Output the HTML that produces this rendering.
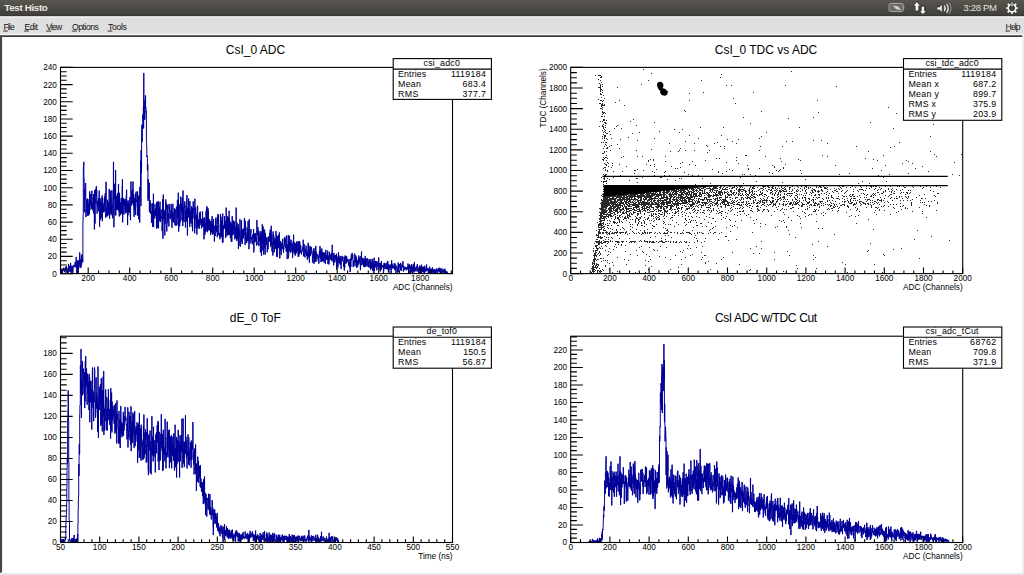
<!DOCTYPE html><html><head><meta charset="utf-8"><style>html,body{margin:0;padding:0;width:1024px;height:575px;overflow:hidden;background:#fff}svg{display:block;font-family:"Liberation Sans", sans-serif}</style></head><body>
<svg width="1024" height="575" viewBox="0 0 1024 575">
<defs><linearGradient id="tb" x1="0" y1="0" x2="0" y2="1"><stop offset="0" stop-color="#58564f"/><stop offset="1" stop-color="#3e3d39"/></linearGradient></defs>
<rect x="0" y="0" width="1024" height="16.4" fill="url(#tb)"/>
<rect x="0" y="15.6" width="1024" height="0.9" fill="#2e2d2a"/>
<text x="4.3" y="11" font-size="9.8" font-weight="bold" fill="#ebe8e1" textLength="43.5">Test Histo</text>
<text x="963.3" y="10.9" font-size="9.6" fill="#e6e3dc" textLength="33.8">3:28 PM</text>
<rect x="889" y="3.4" width="14.3" height="8.2" rx="1.8" fill="#6d6b66" stroke="#a9a7a2" stroke-width="1"/>
<rect x="903.3" y="6" width="1" height="3" fill="#a9a7a2"/>
<path d="M893.6 5.9L897.6 7.3L897 6.3L900.4 9.7L896.3 8.3L896.9 9.3Z" fill="#dddbd5" stroke="#dddbd5" stroke-width="0.9" stroke-linejoin="round"/>
<path d="M916.7 1.6L920.6 5.9H918.8V10.9H915.1V5.9H913.2Z" fill="#f4f3f0" stroke="#1c1c1a" stroke-width="0.7"/>
<path d="M922.9 14.6L926.6 10.9H924.6V6.2H921.2V10.9H919.3Z" fill="#f4f3f0" stroke="#1c1c1a" stroke-width="0.7"/>
<path d="M936.8 7V9.9H939.6L942.2 12.9V3.8L939.6 7Z" fill="#f2f1ee" stroke="#1c1c1a" stroke-width="0.6"/>
<path d="M944.2 5.6Q946.3 8.4 944.2 11.2M946.6 4Q949.8 8.4 946.6 12.8" fill="none" stroke="#ecebe8" stroke-width="1.2"/>
<path d="M949 2.6Q953.3 8.4 949 14.2" fill="none" stroke="#8a8884" stroke-width="1.2"/>
<g transform="translate(1012 8.1)"><rect x="-1.15" y="-6.4" width="2.3" height="3" rx="0.3" transform="rotate(0)" fill="#f6f5f2" stroke="#111" stroke-width="0.5"/><rect x="-1.15" y="-6.4" width="2.3" height="3" rx="0.3" transform="rotate(45)" fill="#f6f5f2" stroke="#111" stroke-width="0.5"/><rect x="-1.15" y="-6.4" width="2.3" height="3" rx="0.3" transform="rotate(90)" fill="#f6f5f2" stroke="#111" stroke-width="0.5"/><rect x="-1.15" y="-6.4" width="2.3" height="3" rx="0.3" transform="rotate(135)" fill="#f6f5f2" stroke="#111" stroke-width="0.5"/><rect x="-1.15" y="-6.4" width="2.3" height="3" rx="0.3" transform="rotate(180)" fill="#f6f5f2" stroke="#111" stroke-width="0.5"/><rect x="-1.15" y="-6.4" width="2.3" height="3" rx="0.3" transform="rotate(225)" fill="#f6f5f2" stroke="#111" stroke-width="0.5"/><rect x="-1.15" y="-6.4" width="2.3" height="3" rx="0.3" transform="rotate(270)" fill="#f6f5f2" stroke="#111" stroke-width="0.5"/><rect x="-1.15" y="-6.4" width="2.3" height="3" rx="0.3" transform="rotate(315)" fill="#f6f5f2" stroke="#111" stroke-width="0.5"/><circle r="4.6" fill="#f6f5f2"/><circle r="2.6" fill="#45443f" stroke="#111" stroke-width="0.6"/><rect x="-1.3" y="-6.2" width="2.6" height="5.2" fill="#1a1a18"/><rect x="-0.7" y="-6" width="1.4" height="4.6" fill="#d8d7d3"/></g>
<rect x="0" y="16.4" width="1024" height="19" fill="#dfdfdf"/>
<rect x="0" y="16.5" width="1024" height="1.2" fill="#f4f4f4"/>
<rect x="0" y="33.8" width="1024" height="1.2" fill="#f6f6f6"/>
<g font-size="8.6" fill="#111"><text x="3.4" y="29.5" textLength="11.3">File</text><rect x="3.2" y="30.6" width="4.6" height="0.9" fill="#222"/><text x="24.4" y="29.5" textLength="13.6">Edit</text><rect x="24.2" y="30.6" width="4.6" height="0.9" fill="#222"/><text x="46.3" y="29.5" textLength="15.9">View</text><rect x="46.1" y="30.6" width="5" height="0.9" fill="#222"/><text x="72" y="29.5" textLength="26.8">Options</text><rect x="71.8" y="30.6" width="5" height="0.9" fill="#222"/><text x="107.9" y="29.5" textLength="18.9">Tools</text><rect x="107.7" y="30.6" width="4.6" height="0.9" fill="#222"/><text x="1005.6" y="29.5" textLength="15">Help</text><rect x="1005.4" y="30.6" width="4.6" height="0.9" fill="#222"/></g>
<rect x="0" y="35" width="1024" height="540" fill="#fff"/>
<rect x="0" y="35.2" width="1022.7" height="1.8" rx="0.8" fill="#3d3d3d"/>
<rect x="0" y="35.2" width="2.1" height="537.6" rx="0.8" fill="#464646"/>
<rect x="0" y="573" width="1024" height="2" fill="#e8e8e8"/>
<rect x="1022.5" y="36" width="1.5" height="539" fill="#e8e8e8"/>
<text x="255.5" y="53.8" text-anchor="middle" font-size="12" fill="#000">CsI_0 ADC</text>
<text x="766" y="53.5" text-anchor="middle" font-size="12" fill="#000">CsI_0 TDC vs ADC</text>
<text x="255.3" y="322.4" text-anchor="middle" font-size="12" fill="#000">dE_0 ToF</text>
<text x="766" y="322.2" text-anchor="middle" font-size="12" fill="#000" textLength="102.2">CsI ADC w/TDC Cut</text>
<path d="M60.5 271.5H60.7V270.0H60.9V272.6H61.1V271.3H61.3V268.9H61.5V270.3H61.7V273.6H62.0V269.0H62.2V273.6H62.4V273.6H62.6V269.9H62.8V270.5H63.0V269.8H63.2V269.6H63.4V269.2H63.6V267.8H63.8V270.9H64.0V270.4H64.2V271.0H64.4V272.0H64.7V271.7H64.9V269.4H65.1V269.8H65.3V267.0H65.5V270.0H65.7V271.5H65.9V272.9H66.1V267.8H66.3V266.3H66.5V268.7H66.7V268.1H66.9V270.8H67.1V271.6H67.3V270.5H67.6V272.6H67.8V268.6H68.0V273.6H68.2V273.6H68.4V264.0H68.6V266.4H68.8V268.1H69.0V268.0H69.2V268.5H69.4V265.9H69.6V271.4H69.8V267.3H70.0V266.8H70.3V269.7H70.5V263.1H70.7V272.4H70.9V267.6H71.1V265.8H71.3V267.7H71.5V267.3H71.7V273.6H71.9V270.2H72.1V270.4H72.3V270.1H72.5V266.1H72.7V272.8H73.0V268.1H73.2V266.1H73.4V265.0H73.6V265.9H73.8V266.6H74.0V266.5H74.2V266.9H74.4V265.9H74.6V264.9H74.8V264.4H75.0V261.9H75.2V261.9H75.4V267.2H75.6V265.7H75.9V266.2H76.1V257.2H76.3V267.1H76.5V265.5H76.7V273.6H76.9V266.4H77.1V264.9H77.3V261.3H77.5V270.1H77.7V265.4H77.9V260.2H78.1V273.1H78.3V261.2H78.6V268.7H78.8V263.8H79.0V262.4H79.2V263.3H79.4V257.2H79.6V252.5H79.8V266.7H80.0V261.8H80.2V259.4H80.4V267.7H80.6V267.5H80.8V265.5H81.0V267.1H81.2V255.5H81.5V264.7H81.7V257.8H81.9V254.4H82.1V256.5H82.3V261.0H82.5V260.5H82.7V262.2H82.9V221.9H83.1V214.8H83.3V167.2H83.5V166.3H83.7V161.9H83.9V178.3H84.2V212.2H84.4V194.4H84.6V189.2H84.8V200.3H85.0V195.4H85.2V185.2H85.4V183.9H85.6V183.1H85.8V217.0H86.0V209.7H86.2V211.4H86.4V199.7H86.6V199.9H86.9V199.8H87.1V215.9H87.3V198.7H87.5V213.5H87.7V203.2H87.9V208.8H88.1V205.1H88.3V214.8H88.5V203.7H88.7V215.5H88.9V199.3H89.1V207.7H89.3V213.9H89.5V191.4H89.8V210.2H90.0V206.1H90.2V194.0H90.4V202.7H90.6V202.2H90.8V205.5H91.0V202.1H91.2V201.5H91.4V208.9H91.6V193.9H91.8V190.8H92.0V196.9H92.2V208.4H92.5V203.0H92.7V210.4H92.9V208.9H93.1V200.5H93.3V194.1H93.5V203.1H93.7V213.5H93.9V213.4H94.1V199.8H94.3V229.4H94.5V190.2H94.7V201.7H94.9V223.5H95.2V196.2H95.4V193.5H95.6V189.0H95.8V203.0H96.0V203.9H96.2V186.2H96.4V196.1H96.6V190.0H96.8V196.5H97.0V213.6H97.2V203.2H97.4V206.1H97.6V200.8H97.8V201.4H98.1V202.1H98.3V208.6H98.5V198.3H98.7V211.3H98.9V205.6H99.1V190.7H99.3V204.1H99.5V226.7H99.7V202.2H99.9V215.3H100.1V201.1H100.3V219.5H100.5V206.1H100.8V198.4H101.0V218.0H101.2V207.3H101.4V203.0H101.6V205.9H101.8V212.6H102.0V195.5H102.2V221.1H102.4V205.1H102.6V197.9H102.8V212.3H103.0V203.1H103.2V212.1H103.5V207.5H103.7V205.8H103.9V205.2H104.1V211.6H104.3V205.3H104.5V197.6H104.7V196.6H104.9V204.2H105.1V193.3H105.3V213.5H105.5V217.6H105.7V217.7H105.9V181.9H106.2V207.2H106.4V207.6H106.6V215.8H106.8V216.2H107.0V216.2H107.2V207.0H107.4V199.8H107.6V216.2H107.8V207.7H108.0V211.6H108.2V208.2H108.4V202.1H108.6V214.4H108.8V214.7H109.1V189.0H109.3V205.1H109.5V218.5H109.7V208.3H109.9V205.4H110.1V201.8H110.3V201.2H110.5V190.9H110.7V213.1H110.9V198.3H111.1V215.1H111.3V214.2H111.5V205.7H111.8V190.2H112.0V202.1H112.2V205.1H112.4V210.2H112.6V218.2H112.8V215.4H113.0V203.1H113.2V197.4H113.4V161.9H113.6V195.1H113.8V227.2H114.0V199.8H114.2V183.8H114.4V198.3H114.7V196.6H114.9V200.6H115.1V215.2H115.3V203.0H115.5V170.2H115.7V215.3H115.9V204.8H116.1V209.7H116.3V195.9H116.5V202.8H116.7V209.2H116.9V199.1H117.1V209.7H117.4V193.0H117.6V205.3H117.8V205.7H118.0V202.4H118.2V210.0H118.4V184.2H118.6V211.2H118.8V205.6H119.0V192.7H119.2V216.4H119.4V194.4H119.6V209.4H119.8V206.3H120.1V215.2H120.3V205.9H120.5V202.4H120.7V213.5H120.9V203.7H121.1V198.1H121.3V206.2H121.5V213.8H121.7V208.4H121.9V199.9H122.1V185.9H122.3V179.4H122.5V222.3H122.8V203.7H123.0V201.4H123.2V204.7H123.4V198.0H123.6V205.2H123.8V214.6H124.0V211.1H124.2V199.3H124.4V200.5H124.6V206.1H124.8V200.9H125.0V210.0H125.2V213.2H125.4V199.2H125.7V203.8H125.9V206.5H126.1V196.8H126.3V193.7H126.5V189.7H126.7V212.7H126.9V205.0H127.1V200.7H127.3V214.2H127.5V225.0H127.7V204.1H127.9V215.2H128.1V203.7H128.4V211.6H128.6V206.7H128.8V200.5H129.0V206.5H129.2V209.3H129.4V213.0H129.6V209.6H129.8V197.2H130.0V204.5H130.2V216.8H130.4V220.1H130.6V204.6H130.8V181.6H131.1V194.3H131.3V203.5H131.5V205.6H131.7V191.3H131.9V196.8H132.1V203.2H132.3V199.7H132.5V189.4H132.7V198.2H132.9V181.6H133.1V204.2H133.3V198.5H133.5V194.7H133.7V208.2H134.0V216.8H134.2V198.2H134.4V210.0H134.6V201.0H134.8V201.9H135.0V203.9H135.2V193.8H135.4V214.9H135.6V207.8H135.8V199.7H136.0V191.6H136.2V202.2H136.4V200.0H136.7V200.0H136.9V200.4H137.1V206.2H137.3V215.5H137.5V191.5H137.7V194.9H137.9V201.7H138.1V201.8H138.3V196.7H138.5V219.2H138.7V195.9H138.9V201.6H139.1V204.2H139.3V205.2H139.6V222.5H139.8V187.2H140.0V201.0H140.2V199.5H140.4V185.2H140.6V160.9H140.8V206.0H141.0V150.2H141.2V173.0H141.4V166.9H141.6V136.6H141.8V124.7H142.0V142.0H142.3V128.8H142.5V125.4H142.7V115.0H142.9V120.2H143.1V113.1H143.3V106.5H143.5V128.4H143.7V73.1H143.9V108.2H144.1V100.6H144.3V109.5H144.5V119.8H144.7V119.3H145.0V113.7H145.2V97.6H145.4V95.5H145.6V108.5H145.8V107.6H146.0V111.3H146.2V110.9H146.4V141.2H146.6V145.9H146.8V156.9H147.0V155.7H147.2V157.2H147.4V170.3H147.6V164.4H147.9V200.8H148.1V179.3H148.3V183.2H148.5V182.3H148.7V198.6H148.9V199.1H149.1V182.9H149.3V211.9H149.5V209.9H149.7V200.1H149.9V200.7H150.1V200.6H150.3V213.5H150.6V207.0H150.8V203.2H151.0V213.4H151.2V211.5H151.4V222.7H151.6V214.8H151.8V214.1H152.0V219.8H152.2V204.2H152.4V213.8H152.6V226.9H152.8V203.3H153.0V207.6H153.3V193.8H153.5V226.8H153.7V205.3H153.9V203.9H154.1V211.8H154.3V210.1H154.5V215.5H154.7V218.4H154.9V213.8H155.1V210.0H155.3V215.7H155.5V208.3H155.7V215.2H155.9V204.3H156.2V215.7H156.4V228.4H156.6V202.3H156.8V206.4H157.0V201.8H157.2V205.4H157.4V227.9H157.6V223.1H157.8V208.8H158.0V214.7H158.2V201.3H158.4V228.3H158.6V220.6H158.9V206.8H159.1V207.6H159.3V218.5H159.5V207.2H159.7V220.6H159.9V201.8H160.1V222.0H160.3V215.5H160.5V221.1H160.7V214.7H160.9V209.9H161.1V209.7H161.3V218.7H161.6V216.5H161.8V218.0H162.0V231.0H162.2V224.8H162.4V216.9H162.6V199.4H162.8V238.7H163.0V208.6H163.2V194.6H163.4V212.4H163.6V219.3H163.8V209.5H164.0V213.5H164.2V211.2H164.5V220.6H164.7V235.4H164.9V216.7H165.1V223.8H165.3V216.7H165.5V205.9H165.7V199.5H165.9V209.0H166.1V203.3H166.3V221.4H166.5V222.1H166.7V231.4H166.9V224.5H167.2V221.8H167.4V222.1H167.6V204.8H167.8V216.5H168.0V220.8H168.2V213.9H168.4V213.0H168.6V221.6H168.8V226.4H169.0V204.0H169.2V208.6H169.4V206.1H169.6V211.9H169.9V218.2H170.1V214.8H170.3V215.3H170.5V219.1H170.7V210.5H170.9V211.8H171.1V203.8H171.3V209.2H171.5V217.4H171.7V225.9H171.9V227.8H172.1V214.6H172.3V213.1H172.6V221.5H172.8V204.1H173.0V214.6H173.2V220.3H173.4V222.3H173.6V215.3H173.8V213.1H174.0V214.6H174.2V209.5H174.4V208.5H174.6V222.8H174.8V225.1H175.0V213.4H175.2V209.8H175.5V212.5H175.7V213.1H175.9V226.0H176.1V208.8H176.3V206.7H176.5V207.7H176.7V211.5H176.9V224.9H177.1V212.3H177.3V199.9H177.5V217.8H177.7V211.8H177.9V203.9H178.2V192.7H178.4V211.2H178.6V231.5H178.8V204.3H179.0V215.4H179.2V219.1H179.4V219.7H179.6V226.3H179.8V206.2H180.0V222.5H180.2V203.6H180.4V206.0H180.6V196.7H180.8V207.4H181.1V206.9H181.3V211.2H181.5V204.2H181.7V212.9H181.9V220.4H182.1V197.6H182.3V203.9H182.5V200.8H182.7V226.0H182.9V190.6H183.1V220.1H183.3V207.4H183.5V207.8H183.8V220.5H184.0V222.0H184.2V206.4H184.4V207.4H184.6V202.8H184.8V201.5H185.0V211.9H185.2V218.5H185.4V227.5H185.6V210.8H185.8V218.6H186.0V205.7H186.2V213.8H186.5V221.3H186.7V197.2H186.9V195.1H187.1V207.7H187.3V235.4H187.5V209.7H187.7V216.8H187.9V208.2H188.1V217.5H188.3V208.7H188.5V198.6H188.7V214.3H188.9V214.7H189.2V209.3H189.4V224.1H189.6V226.8H189.8V201.2H190.0V206.7H190.2V211.7H190.4V221.2H190.6V212.9H190.8V223.3H191.0V210.5H191.2V218.0H191.4V219.6H191.6V206.3H191.8V224.1H192.1V227.3H192.3V208.1H192.5V231.2H192.7V209.7H192.9V218.3H193.1V201.5H193.3V210.6H193.5V209.0H193.7V210.4H193.9V208.1H194.1V215.2H194.3V218.7H194.5V233.2H194.8V198.8H195.0V220.3H195.2V213.0H195.4V213.1H195.6V207.4H195.8V212.3H196.0V228.3H196.2V220.4H196.4V214.8H196.6V217.1H196.8V234.5H197.0V216.3H197.2V225.2H197.4V205.9H197.7V226.5H197.9V221.8H198.1V227.7H198.3V219.6H198.5V219.8H198.7V219.8H198.9V228.7H199.1V228.5H199.3V214.3H199.5V212.8H199.7V219.9H199.9V225.2H200.1V211.7H200.4V222.8H200.6V219.5H200.8V222.1H201.0V218.8H201.2V220.5H201.4V228.3H201.6V227.1H201.8V220.0H202.0V222.2H202.2V226.6H202.4V211.5H202.6V220.0H202.8V220.5H203.1V218.7H203.3V222.0H203.5V226.9H203.7V220.9H203.9V239.2H204.1V217.5H204.3V227.9H204.5V217.8H204.7V235.0H204.9V225.9H205.1V222.8H205.3V230.3H205.5V232.3H205.8V223.7H206.0V211.3H206.2V230.8H206.4V208.9H206.6V221.6H206.8V206.3H207.0V222.8H207.2V215.8H207.4V232.1H207.6V217.0H207.8V207.9H208.0V229.0H208.2V210.7H208.4V230.2H208.7V223.8H208.9V223.6H209.1V222.7H209.3V219.2H209.5V221.8H209.7V230.3H209.9V221.9H210.1V227.9H210.3V221.1H210.5V235.0H210.7V220.9H210.9V228.2H211.1V224.3H211.4V232.4H211.6V224.6H211.8V218.5H212.0V216.1H212.2V221.3H212.4V234.2H212.6V224.5H212.8V234.5H213.0V222.7H213.2V230.5H213.4V219.1H213.6V232.1H213.8V233.4H214.0V232.4H214.3V241.5H214.5V234.1H214.7V225.8H214.9V227.4H215.1V236.0H215.3V231.3H215.5V218.9H215.7V223.5H215.9V217.6H216.1V222.7H216.3V231.4H216.5V231.9H216.7V226.0H217.0V233.6H217.2V237.2H217.4V229.1H217.6V216.4H217.8V214.2H218.0V223.1H218.2V215.2H218.4V224.3H218.6V235.1H218.8V233.5H219.0V234.6H219.2V233.4H219.4V236.1H219.7V233.2H219.9V239.2H220.1V223.4H220.3V214.1H220.5V223.9H220.7V236.6H220.9V216.7H221.1V227.4H221.3V220.7H221.5V237.1H221.7V222.7H221.9V229.3H222.1V228.3H222.3V242.5H222.6V213.6H222.8V242.5H223.0V237.3H223.2V230.7H223.4V225.9H223.6V226.4H223.8V226.8H224.0V224.8H224.2V228.7H224.4V216.2H224.6V226.8H224.8V227.3H225.0V226.0H225.3V220.8H225.5V237.9H225.7V230.5H225.9V236.5H226.1V207.7H226.3V231.2H226.5V227.4H226.7V231.5H226.9V221.3H227.1V216.1H227.3V235.4H227.5V221.8H227.7V220.9H228.0V218.6H228.2V234.4H228.4V234.8H228.6V217.0H228.8V233.7H229.0V210.8H229.2V222.0H229.4V234.5H229.6V220.8H229.8V234.7H230.0V233.4H230.2V237.7H230.4V222.0H230.7V226.0H230.9V235.5H231.1V241.5H231.3V237.0H231.5V223.4H231.7V241.8H231.9V232.4H232.1V216.2H232.3V224.6H232.5V233.9H232.7V229.0H232.9V235.2H233.1V229.6H233.3V220.7H233.6V229.2H233.8V225.4H234.0V233.8H234.2V230.1H234.4V229.9H234.6V221.5H234.8V239.2H235.0V232.3H235.2V229.6H235.4V227.0H235.6V238.1H235.8V234.3H236.0V207.7H236.3V224.7H236.5V240.1H236.7V241.0H236.9V222.8H237.1V224.5H237.3V226.3H237.5V238.0H237.7V230.5H237.9V239.4H238.1V224.3H238.3V248.8H238.5V230.8H238.7V227.9H238.9V245.8H239.2V237.4H239.4V230.2H239.6V233.8H239.8V219.3H240.0V220.2H240.2V243.9H240.4V246.5H240.6V236.7H240.8V231.5H241.0V232.5H241.2V231.0H241.4V220.4H241.6V241.9H241.9V230.6H242.1V244.0H242.3V229.5H242.5V231.9H242.7V236.0H242.9V238.7H243.1V228.6H243.3V229.7H243.5V237.8H243.7V233.1H243.9V234.2H244.1V234.8H244.3V218.2H244.6V230.3H244.8V224.1H245.0V244.9H245.2V220.9H245.4V224.9H245.6V240.3H245.8V232.4H246.0V237.0H246.2V237.2H246.4V236.4H246.6V243.1H246.8V235.3H247.0V227.5H247.2V231.3H247.5V240.0H247.7V241.0H247.9V221.2H248.1V221.1H248.3V229.8H248.5V240.6H248.7V234.3H248.9V249.1H249.1V219.3H249.3V230.6H249.5V232.1H249.7V236.2H249.9V243.4H250.2V238.4H250.4V232.4H250.6V232.8H250.8V229.0H251.0V239.1H251.2V237.4H251.4V237.0H251.6V240.3H251.8V242.2H252.0V241.1H252.2V244.2H252.4V243.1H252.6V235.5H252.9V233.9H253.1V236.8H253.3V238.7H253.5V229.1H253.7V252.4H253.9V250.2H254.1V234.6H254.3V233.5H254.5V242.4H254.7V237.4H254.9V237.3H255.1V240.4H255.3V237.4H255.5V233.2H255.8V241.6H256.0V237.2H256.2V239.6H256.4V245.4H256.6V237.1H256.8V220.1H257.0V235.2H257.2V233.5H257.4V234.6H257.6V229.2H257.8V227.2H258.0V245.0H258.2V241.6H258.5V230.7H258.7V245.7H258.9V245.9H259.1V237.8H259.3V241.1H259.5V236.2H259.7V233.1H259.9V231.5H260.1V231.3H260.3V252.3H260.5V234.2H260.7V245.4H260.9V237.6H261.2V244.6H261.4V255.8H261.6V231.5H261.8V233.8H262.0V250.6H262.2V224.3H262.4V243.1H262.6V243.3H262.8V243.8H263.0V226.5H263.2V236.1H263.4V236.8H263.6V254.5H263.9V229.4H264.1V248.5H264.3V240.6H264.5V230.0H264.7V231.7H264.9V243.9H265.1V254.4H265.3V233.5H265.5V241.9H265.7V242.6H265.9V245.2H266.1V240.6H266.3V238.2H266.5V237.6H266.8V244.7H267.0V237.5H267.2V252.2H267.4V244.0H267.6V243.1H267.8V244.1H268.0V249.1H268.2V243.4H268.4V240.6H268.6V236.4H268.8V241.8H269.0V241.5H269.2V240.5H269.5V233.0H269.7V235.9H269.9V241.6H270.1V229.6H270.3V236.1H270.5V246.6H270.7V237.1H270.9V239.1H271.1V225.9H271.3V244.7H271.5V236.7H271.7V234.9H271.9V251.2H272.1V242.3H272.4V252.5H272.6V245.6H272.8V255.5H273.0V231.5H273.2V241.9H273.4V234.4H273.6V244.2H273.8V236.4H274.0V248.5H274.2V252.1H274.4V240.0H274.6V248.3H274.8V244.7H275.1V238.5H275.3V248.7H275.5V244.0H275.7V239.7H275.9V231.2H276.1V235.8H276.3V234.9H276.5V256.3H276.7V242.5H276.9V243.8H277.1V257.1H277.3V243.2H277.5V236.1H277.8V243.6H278.0V248.0H278.2V240.0H278.4V235.0H278.6V246.7H278.8V248.1H279.0V239.5H279.2V232.5H279.4V254.7H279.6V258.3H279.8V258.3H280.0V242.7H280.2V247.6H280.4V241.0H280.7V250.8H280.9V248.5H281.1V254.8H281.3V247.6H281.5V242.9H281.7V248.5H281.9V244.8H282.1V249.2H282.3V248.2H282.5V239.0H282.7V243.3H282.9V245.2H283.1V245.6H283.4V252.7H283.6V249.7H283.8V249.7H284.0V246.8H284.2V237.7H284.4V245.6H284.6V240.0H284.8V237.3H285.0V242.2H285.2V239.4H285.4V244.7H285.6V247.8H285.8V247.0H286.1V251.3H286.3V235.7H286.5V238.6H286.7V251.6H286.9V244.4H287.1V259.0H287.3V253.6H287.5V246.3H287.7V244.7H287.9V251.4H288.1V235.1H288.3V258.3H288.5V255.4H288.8V246.4H289.0V241.0H289.2V251.1H289.4V235.9H289.6V246.8H289.8V243.5H290.0V242.4H290.2V248.0H290.4V252.7H290.6V248.4H290.8V239.7H291.0V239.9H291.2V245.7H291.4V243.2H291.7V250.2H291.9V252.1H292.1V243.9H292.3V245.3H292.5V257.9H292.7V244.1H292.9V253.3H293.1V240.8H293.3V244.4H293.5V234.8H293.7V251.0H293.9V247.3H294.1V242.2H294.4V252.7H294.6V251.4H294.8V250.9H295.0V255.5H295.2V249.1H295.4V254.7H295.6V243.3H295.8V250.6H296.0V247.3H296.2V252.4H296.4V241.6H296.6V253.2H296.8V244.1H297.0V250.6H297.3V245.6H297.5V250.4H297.7V243.9H297.9V241.4H298.1V256.8H298.3V241.5H298.5V248.1H298.7V256.5H298.9V245.6H299.1V247.0H299.3V254.1H299.5V241.0H299.7V242.2H300.0V248.6H300.2V249.8H300.4V252.0H300.6V245.4H300.8V252.6H301.0V253.0H301.2V251.4H301.4V254.6H301.6V250.8H301.8V250.6H302.0V251.2H302.2V249.4H302.4V247.2H302.7V249.9H302.9V248.2H303.1V239.8H303.3V253.0H303.5V256.2H303.7V251.8H303.9V249.2H304.1V244.2H304.3V255.0H304.5V255.6H304.7V255.8H304.9V257.4H305.1V249.1H305.4V251.8H305.6V253.5H305.8V252.5H306.0V245.7H306.2V255.9H306.4V253.3H306.6V255.3H306.8V250.6H307.0V254.5H307.2V259.9H307.4V258.1H307.6V253.2H307.8V256.0H308.0V242.8H308.3V257.5H308.5V244.9H308.7V249.4H308.9V246.6H309.1V252.2H309.3V262.6H309.5V255.5H309.7V250.7H309.9V250.9H310.1V246.2H310.3V256.1H310.5V248.6H310.7V253.0H311.0V253.5H311.2V247.1H311.4V250.0H311.6V249.6H311.8V250.4H312.0V254.7H312.2V254.4H312.4V262.2H312.6V262.5H312.8V254.3H313.0V251.8H313.2V252.4H313.4V258.0H313.6V248.4H313.9V263.8H314.1V251.0H314.3V261.8H314.5V253.0H314.7V258.8H314.9V261.2H315.1V248.5H315.3V261.3H315.5V258.0H315.7V245.9H315.9V261.8H316.1V253.3H316.3V252.2H316.6V256.7H316.8V258.2H317.0V254.5H317.2V255.0H317.4V255.8H317.6V256.1H317.8V254.7H318.0V260.6H318.2V260.7H318.4V256.4H318.6V260.3H318.8V263.5H319.0V257.4H319.3V251.2H319.5V255.4H319.7V254.3H319.9V246.1H320.1V258.0H320.3V249.9H320.5V257.8H320.7V259.1H320.9V262.0H321.1V251.3H321.3V257.9H321.5V261.7H321.7V248.5H321.9V258.7H322.2V261.0H322.4V260.8H322.6V252.2H322.8V260.9H323.0V258.5H323.2V252.3H323.4V260.4H323.6V256.8H323.8V254.8H324.0V262.6H324.2V256.5H324.4V252.8H324.6V253.4H324.9V258.5H325.1V256.0H325.3V263.8H325.5V259.3H325.7V249.9H325.9V257.6H326.1V259.3H326.3V255.5H326.5V256.9H326.7V259.7H326.9V256.7H327.1V253.0H327.3V259.5H327.6V250.7H327.8V264.0H328.0V263.7H328.2V255.7H328.4V259.5H328.6V257.0H328.8V264.3H329.0V262.7H329.2V252.5H329.4V251.9H329.6V256.1H329.8V257.1H330.0V259.9H330.2V257.9H330.5V255.0H330.7V254.5H330.9V259.0H331.1V255.8H331.3V252.9H331.5V259.9H331.7V256.4H331.9V261.1H332.1V244.9H332.3V255.2H332.5V254.1H332.7V255.6H332.9V257.7H333.2V262.2H333.4V255.3H333.6V265.3H333.8V253.0H334.0V259.9H334.2V255.9H334.4V256.0H334.6V257.9H334.8V262.4H335.0V255.1H335.2V259.1H335.4V258.0H335.6V256.4H335.9V258.1H336.1V259.6H336.3V253.9H336.5V269.4H336.7V260.8H336.9V265.7H337.1V261.7H337.3V263.1H337.5V263.5H337.7V256.7H337.9V267.4H338.1V261.5H338.3V252.4H338.6V261.8H338.8V262.2H339.0V255.7H339.2V257.9H339.4V263.3H339.6V258.9H339.8V261.3H340.0V257.6H340.2V264.6H340.4V257.7H340.6V256.3H340.8V258.1H341.0V268.9H341.2V262.7H341.5V261.1H341.7V260.6H341.9V255.9H342.1V260.1H342.3V258.8H342.5V261.0H342.7V258.9H342.9V256.8H343.1V260.7H343.3V262.7H343.5V266.5H343.7V265.0H343.9V261.1H344.2V270.5H344.4V257.1H344.6V267.9H344.8V258.3H345.0V255.5H345.2V257.8H345.4V261.6H345.6V262.8H345.8V263.7H346.0V256.5H346.2V258.9H346.4V262.8H346.6V256.4H346.8V261.2H347.1V260.4H347.3V259.2H347.5V260.7H347.7V261.5H347.9V259.1H348.1V260.5H348.3V262.5H348.5V265.9H348.7V262.1H348.9V263.7H349.1V263.0H349.3V262.5H349.5V267.5H349.8V259.4H350.0V271.8H350.2V270.3H350.4V258.6H350.6V264.9H350.8V266.7H351.0V260.3H351.2V254.7H351.4V260.3H351.6V260.2H351.8V257.4H352.0V252.9H352.2V258.5H352.5V255.7H352.7V254.8H352.9V260.2H353.1V267.0H353.3V261.5H353.5V264.9H353.7V260.7H353.9V261.8H354.1V263.0H354.3V260.8H354.5V262.7H354.7V253.7H354.9V266.2H355.1V261.8H355.4V258.9H355.6V260.0H355.8V255.7H356.0V259.3H356.2V262.1H356.4V257.0H356.6V267.8H356.8V260.7H357.0V264.8H357.2V260.4H357.4V263.6H357.6V266.9H357.8V260.8H358.1V259.6H358.3V264.6H358.5V259.2H358.7V255.6H358.9V260.6H359.1V262.0H359.3V258.9H359.5V257.6H359.7V263.2H359.9V264.0H360.1V264.2H360.3V270.1H360.5V262.0H360.8V256.2H361.0V265.4H361.2V262.8H361.4V251.6H361.6V261.4H361.8V259.8H362.0V260.0H362.2V260.5H362.4V257.9H362.6V264.7H362.8V263.0H363.0V260.1H363.2V264.7H363.4V258.7H363.7V267.0H363.9V263.3H364.1V261.8H364.3V267.0H364.5V258.8H364.7V265.8H364.9V267.0H365.1V256.1H365.3V264.2H365.5V264.9H365.7V260.1H365.9V266.2H366.1V261.1H366.4V258.7H366.6V263.4H366.8V266.2H367.0V265.8H367.2V258.6H367.4V259.2H367.6V258.6H367.8V262.1H368.0V266.7H368.2V262.2H368.4V261.3H368.6V267.2H368.8V263.4H369.1V259.1H369.3V264.8H369.5V267.4H369.7V265.4H369.9V266.8H370.1V263.3H370.3V259.5H370.5V269.6H370.7V263.3H370.9V263.9H371.1V262.4H371.3V268.4H371.5V265.0H371.8V261.4H372.0V258.9H372.2V261.1H372.4V270.8H372.6V269.2H372.8V260.2H373.0V263.1H373.2V262.5H373.4V263.3H373.6V268.5H373.8V273.6H374.0V257.8H374.2V270.6H374.4V264.0H374.7V266.2H374.9V267.7H375.1V266.9H375.3V261.0H375.5V266.0H375.7V265.5H375.9V265.5H376.1V262.2H376.3V261.2H376.5V262.6H376.7V270.2H376.9V262.5H377.1V261.9H377.4V264.3H377.6V266.2H377.8V262.2H378.0V267.2H378.2V262.9H378.4V262.4H378.6V257.5H378.8V266.9H379.0V267.9H379.2V268.3H379.4V262.9H379.6V265.5H379.8V266.3H380.1V271.4H380.3V264.2H380.5V263.0H380.7V267.8H380.9V263.5H381.1V269.8H381.3V261.1H381.5V264.5H381.7V265.5H381.9V267.3H382.1V265.2H382.3V267.1H382.5V266.8H382.7V266.2H383.0V266.9H383.2V265.8H383.4V273.6H383.6V271.4H383.8V264.2H384.0V262.9H384.2V266.3H384.4V263.6H384.6V263.5H384.8V269.0H385.0V263.6H385.2V265.2H385.4V264.6H385.7V267.9H385.9V269.0H386.1V266.8H386.3V268.7H386.5V267.6H386.7V262.8H386.9V268.1H387.1V269.3H387.3V266.9H387.5V267.1H387.7V261.0H387.9V265.0H388.1V270.1H388.3V272.1H388.6V264.3H388.8V267.0H389.0V267.1H389.2V268.0H389.4V267.5H389.6V265.4H389.8V269.8H390.0V267.1H390.2V264.6H390.4V264.8H390.6V267.6H390.8V265.0H391.0V273.6H391.3V266.9H391.5V260.3H391.7V262.4H391.9V265.1H392.1V267.3H392.3V264.7H392.5V268.3H392.7V267.4H392.9V265.9H393.1V268.2H393.3V267.4H393.5V266.4H393.7V266.2H394.0V263.3H394.2V267.3H394.4V269.9H394.6V266.2H394.8V268.2H395.0V263.7H395.2V268.3H395.4V267.0H395.6V270.4H395.8V272.7H396.0V266.5H396.2V265.8H396.4V266.3H396.6V266.0H396.9V268.8H397.1V273.2H397.3V271.5H397.5V267.7H397.7V268.0H397.9V267.2H398.1V262.6H398.3V267.6H398.5V266.3H398.7V272.0H398.9V268.9H399.1V264.1H399.3V266.7H399.6V264.9H399.8V264.7H400.0V268.3H400.2V268.9H400.4V270.1H400.6V262.9H400.8V266.8H401.0V266.5H401.2V270.9H401.4V267.5H401.6V265.8H401.8V264.7H402.0V266.7H402.3V265.0H402.5V267.3H402.7V262.2H402.9V261.3H403.1V267.1H403.3V271.5H403.5V269.5H403.7V266.6H403.9V266.1H404.1V270.0H404.3V268.1H404.5V269.6H404.7V268.8H404.9V268.1H405.2V268.8H405.4V267.2H405.6V268.0H405.8V267.0H406.0V270.2H406.2V267.7H406.4V268.2H406.6V269.0H406.8V267.4H407.0V268.7H407.2V269.5H407.4V267.5H407.6V266.4H407.9V263.6H408.1V268.3H408.3V267.2H408.5V273.6H408.7V267.1H408.9V264.8H409.1V264.9H409.3V266.1H409.5V264.6H409.7V269.2H409.9V265.5H410.1V273.6H410.3V266.1H410.6V272.4H410.8V266.4H411.0V272.4H411.2V265.5H411.4V269.2H411.6V264.2H411.8V269.4H412.0V268.4H412.2V266.9H412.4V273.6H412.6V268.4H412.8V272.0H413.0V265.9H413.2V264.4H413.5V270.3H413.7V271.4H413.9V272.5H414.1V264.7H414.3V262.1H414.5V267.8H414.7V271.1H414.9V269.7H415.1V267.4H415.3V270.3H415.5V270.2H415.7V269.7H415.9V271.4H416.2V266.3H416.4V266.5H416.6V268.2H416.8V267.3H417.0V268.2H417.2V264.1H417.4V271.3H417.6V267.4H417.8V267.6H418.0V269.2H418.2V269.2H418.4V269.2H418.6V273.3H418.9V268.0H419.1V266.8H419.3V267.5H419.5V273.1H419.7V265.5H419.9V266.4H420.1V267.8H420.3V271.5H420.5V266.8H420.7V272.8H420.9V269.9H421.1V273.5H421.3V264.7H421.6V270.6H421.8V272.1H422.0V266.6H422.2V271.8H422.4V270.1H422.6V268.4H422.8V267.7H423.0V267.2H423.2V272.5H423.4V267.3H423.6V269.5H423.8V271.5H424.0V266.5H424.2V270.1H424.5V273.6H424.7V265.9H424.9V270.0H425.1V268.5H425.3V269.2H425.5V271.7H425.7V268.9H425.9V270.7H426.1V270.1H426.3V269.2H426.5V264.5H426.7V271.0H426.9V268.6H427.2V270.4H427.4V268.7H427.6V269.0H427.8V268.4H428.0V270.4H428.2V273.6H428.4V268.8H428.6V270.6H428.8V269.0H429.0V273.0H429.2V271.2H429.4V273.2H429.6V266.7H429.8V271.3H430.1V271.4H430.3V269.0H430.5V272.6H430.7V270.4H430.9V268.8H431.1V270.2H431.3V273.4H431.5V269.0H431.7V269.3H431.9V272.4H432.1V272.7H432.3V267.4H432.5V271.6H432.8V269.8H433.0V272.2H433.2V272.8H433.4V271.0H433.6V269.3H433.8V269.2H434.0V273.6H434.2V270.6H434.4V272.7H434.6V269.2H434.8V269.8H435.0V273.6H435.2V270.6H435.5V272.9H435.7V270.9H435.9V273.6H436.1V268.8H436.3V268.6H436.5V270.9H436.7V270.1H436.9V271.0H437.1V269.6H437.3V273.1H437.5V273.6H437.7V271.1H437.9V271.6H438.1V268.4H438.4V270.9H438.6V269.2H438.8V270.3H439.0V267.8H439.2V270.2H439.4V272.2H439.6V272.3H439.8V270.5H440.0V268.1H440.2V270.4H440.4V273.2H440.6V269.2H440.8V270.8H441.1V273.1H441.3V273.3H441.5V273.5H441.7V271.5H441.9V268.4H442.1V271.5H442.3V270.8H442.5V271.5H442.7V273.6H442.9V270.9H443.1V272.2H443.3V270.8H443.5V270.8H443.8V269.4H444.0V271.0H444.2V269.6H444.4V273.6H444.6V272.7H444.8V268.8H445.0V273.0H445.2V270.7H445.4V271.6H445.6V272.8H445.8V272.9H446.0V273.6H446.2V273.6H446.4V271.6H446.7V271.2H446.9V272.8H447.1V272.2H447.3V272.8H447.5V273.6H447.7V273.6H447.9V273.6H448.1V273.6H448.3V273.6H448.5V273.6H448.7V273.6H448.9V273.6H449.1V273.6H449.4V273.6H449.6V273.6H449.8V273.6H450.0V273.6H450.2V273.6H450.4V273.6H450.6V273.6H450.8V273.6H451.0V273.6H451.2V273.6H451.4V273.6H451.6V273.6H451.8V273.6H452.1V273.6H452.3V273.6H452.5V273.6H452.7" fill="none" stroke="#000099" stroke-width="1"/>
<path d="M643 69h1M922 69h1M791 71h1M946 71h1M651 73h1M721 74h1M595 75h1M598 75h3M601 76h1M600 77h2M720 77h1M598 79h1M600 80h1M648 80h1M701 80h1M601 82h1M599 83h1M600 84h1M602 84h1M641 84h1M600 85h1M726 85h1M731 85h1M785 85h1M600 86h1M602 86h1M836 86h1M598 87h3M617 87h1M600 88h1M600 89h2M600 90h1M602 90h1M600 91h1M667 91h1M602 92h1M703 92h1M753 92h1M600 93h1M689 93h1M600 94h2M603 95h1M601 97h1M604 98h1M733 98h1M598 99h1M600 100h2M603 100h1M619 100h1M689 100h1M817 100h1M602 101h1M615 102h1M599 103h2M602 103h1M735 103h1M601 104h2M604 104h1M601 105h4M624 105h1M601 106h1M602 107h1M888 107h1M600 108h2M602 109h1M684 110h1M602 111h1M685 111h1M761 111h1M602 112h3M818 112h1M603 113h1M605 113h1M896 113h1M602 114h1M601 116h2M604 116h1M743 117h1M813 117h1M788 118h1M603 119h2M633 119h1M603 120h2M606 120h1M906 120h1M600 121h1M602 121h1M630 121h1M604 122h2M654 122h1M870 122h1M605 123h2M750 123h1M603 124h1M933 124h1M602 125h1M605 125h1M617 125h1M636 125h1M599 126h1M602 126h2M616 126h1M603 127h1M605 127h1M700 127h1M723 127h1M799 127h1M603 128h1M614 128h1M621 128h1M893 128h1M604 129h1M674 129h1M682 129h1M602 130h1M605 130h1M604 131h1M609 131h1M659 131h1M603 132h1M605 132h1M639 132h1M679 132h1M766 132h1M606 133h2M632 133h1M603 134h1M610 134h1M604 135h2M689 135h1M721 135h1M602 136h1M604 136h2M761 136h1M930 136h1M604 137h1M628 137h1M602 138h1M604 138h1M606 138h1M611 138h1M654 138h1M698 138h1M759 138h1M607 139h1M620 139h1M727 139h1M738 139h1M604 140h1M637 140h1M813 140h1M821 140h1M685 141h1M732 141h1M786 141h1M792 141h1M601 142h1M603 142h1M605 142h2M717 142h1M899 142h1M669 143h1M694 143h1M714 143h1M736 143h1M827 143h1M605 144h1M617 144h1M606 145h1M611 145h1M706 145h1M604 146h1M609 146h1M707 146h1M720 146h1M724 146h1M760 146h1M782 146h1M856 146h1M894 146h1M607 147h1M890 147h1M603 148h1M606 148h2M619 148h1M680 148h1M724 148h1M651 149h1M610 150h1M636 150h1M679 150h1M685 150h1M694 150h1M709 150h1M759 150h1M604 151h1M606 151h1M670 151h1M678 151h1M868 151h1M930 151h1M604 152h1M707 152h1M602 153h2M934 154h1M961 154h1M606 155h1M745 155h2M822 155h1M883 155h1M623 156h1M637 156h1M642 156h1M665 156h1M765 156h1M827 156h1M936 156h1M603 157h1M605 157h2M621 157h1M736 157h1M604 158h1M607 158h1M716 158h1M719 158h1M780 158h1M865 158h1M602 159h2M650 159h1M653 159h1M798 159h1M873 159h1M603 160h1M606 160h1M648 160h1M653 160h1M705 160h1M736 160h1M800 160h1M877 160h1M906 160h1M648 161h1M665 161h1M692 161h1M781 161h1M908 161h1M607 162h1M682 162h1M726 162h1M954 162h1M604 163h1M608 163h1M612 163h1M680 163h1M738 163h1M902 163h1M912 163h1M605 164h2M619 164h1M646 164h1M654 164h1M689 164h1M785 164h1M606 165h1M612 165h1M650 165h1M695 165h1M747 165h1M772 165h1M835 165h1M885 165h1M608 166h1M626 166h1M654 166h1M671 166h1M774 166h1M922 166h1M604 167h2M611 167h1M680 167h1M774 167h1M783 167h1M603 168h1M675 168h1M677 168h1M748 168h1M759 168h1M783 168h1M872 168h1M915 168h1M605 169h1M637 169h1M656 169h1M712 169h1M729 169h1M748 169h1M780 169h1M605 170h1M607 170h1M634 170h2M643 170h1M732 170h1M776 170h1M779 170h1M800 170h1M881 170h1M607 171h1M613 171h1M622 171h1M652 171h1M665 171h1M718 171h1M726 171h1M778 171h1M928 171h1M654 172h1M664 172h1M684 172h1M718 172h1M769 172h1M634 173h1M722 173h1M772 173h1M801 173h1M849 173h1M908 173h1M603 174h1M605 174h2M688 174h1M742 174h1M744 174h1M750 174h1M839 174h1M889 174h1M952 174h1M604 175h2M620 175h1M654 175h1M664 175h1M669 175h1M692 175h1M698 175h1M755 175h1M878 175h1M959 175h1M603 176h1M605 176h1M601 177h1M604 177h1M613 177h1M642 177h1M660 177h2M740 177h1M883 177h1M603 178h2M607 178h1M636 178h2M679 178h1M681 178h1M702 178h1M604 179h1M609 179h1M667 179h1M805 179h1M606 180h1M629 180h1M675 180h1M601 181h1M603 181h4M756 181h1M862 181h1M886 181h1M603 182h1M637 182h1M782 182h1M606 183h1M710 183h1M743 183h1M858 183h1M869 183h1M603 184h1M695 184h1M604 185h18M623 185h4M628 185h5M634 185h8M643 185h1M645 185h2M648 185h7M656 185h1M659 185h3M664 185h9M674 185h1M676 185h9M686 185h1M688 185h2M691 185h1M693 185h3M697 185h1M701 185h4M706 185h1M710 185h4M715 185h2M720 185h4M725 185h2M728 185h1M731 185h1M734 185h3M739 185h3M748 185h2M754 185h1M760 185h1M766 185h2M770 185h1M772 185h1M774 185h3M791 185h1M794 185h1M800 185h1M804 185h2M812 185h1M814 185h2M818 185h1M820 185h1M822 185h2M828 185h1M830 185h1M836 185h1M845 185h1M849 185h1M858 185h1M860 185h2M866 185h1M871 185h1M880 185h1M882 185h1M889 185h2M899 185h1M905 185h1M907 185h1M918 185h1M603 186h22M626 186h5M633 186h5M639 186h4M644 186h9M654 186h5M660 186h11M672 186h1M674 186h4M679 186h1M681 186h5M687 186h6M696 186h4M701 186h2M704 186h1M706 186h1M708 186h1M710 186h2M713 186h5M720 186h2M724 186h1M729 186h2M734 186h1M736 186h1M739 186h3M750 186h1M753 186h2M762 186h4M767 186h2M772 186h2M778 186h1M781 186h1M785 186h1M787 186h1M792 186h1M797 186h1M801 186h1M805 186h2M816 186h1M819 186h2M823 186h1M839 186h1M842 186h2M852 186h1M860 186h1M866 186h1M870 186h2M873 186h1M875 186h2M885 186h1M890 186h1M897 186h1M899 186h1M903 186h1M912 186h1M920 186h1M926 186h1M936 186h1M604 187h16M621 187h20M642 187h3M646 187h3M650 187h1M652 187h6M659 187h2M662 187h2M665 187h1M667 187h3M672 187h1M674 187h1M677 187h2M680 187h4M685 187h2M689 187h1M691 187h4M696 187h2M703 187h3M709 187h1M713 187h4M719 187h2M723 187h1M726 187h2M732 187h3M737 187h1M740 187h1M742 187h1M750 187h1M752 187h2M757 187h1M763 187h1M768 187h2M771 187h2M775 187h1M781 187h1M784 187h1M789 187h2M798 187h1M804 187h1M806 187h1M808 187h1M810 187h1M816 187h1M818 187h1M820 187h2M824 187h2M827 187h1M840 187h1M846 187h1M850 187h1M855 187h1M861 187h1M871 187h1M879 187h1M904 187h2M913 187h1M923 187h1M930 187h1M940 187h1M604 188h10M615 188h8M624 188h7M632 188h1M634 188h11M646 188h4M652 188h4M657 188h4M662 188h6M669 188h1M671 188h1M673 188h1M675 188h5M681 188h3M685 188h3M689 188h5M695 188h1M697 188h3M701 188h3M706 188h5M712 188h6M720 188h1M722 188h1M725 188h1M729 188h1M731 188h2M736 188h1M739 188h1M744 188h1M749 188h1M752 188h3M760 188h3M765 188h1M772 188h2M775 188h1M777 188h1M779 188h1M782 188h2M785 188h1M789 188h1M794 188h1M800 188h1M804 188h1M808 188h1M812 188h1M824 188h3M834 188h1M838 188h1M841 188h1M866 188h1M869 188h1M875 188h1M881 188h1M888 188h1M892 188h1M922 188h1M603 189h16M620 189h2M623 189h3M628 189h6M635 189h3M639 189h5M647 189h12M660 189h2M663 189h3M670 189h1M672 189h3M676 189h3M680 189h8M689 189h1M691 189h4M696 189h1M699 189h2M704 189h2M710 189h4M719 189h1M722 189h6M736 189h1M738 189h6M749 189h1M751 189h1M759 189h1M763 189h1M768 189h2M771 189h1M776 189h1M781 189h1M784 189h2M789 189h1M792 189h1M797 189h1M802 189h1M806 189h1M813 189h2M821 189h1M827 189h1M830 189h1M836 189h1M839 189h1M853 189h1M859 189h4M874 189h1M878 189h1M880 189h1M888 189h1M891 189h1M896 189h1M902 189h1M604 190h14M619 190h9M631 190h4M636 190h4M641 190h1M643 190h14M661 190h4M666 190h4M671 190h6M678 190h7M687 190h2M692 190h2M695 190h3M699 190h4M704 190h1M709 190h2M712 190h1M714 190h4M721 190h1M730 190h2M734 190h1M738 190h3M743 190h3M748 190h2M752 190h1M758 190h1M762 190h1M766 190h1M770 190h2M774 190h2M777 190h1M779 190h2M782 190h2M786 190h1M792 190h1M796 190h1M798 190h1M802 190h1M805 190h1M811 190h2M814 190h2M818 190h1M821 190h2M834 190h2M842 190h1M847 190h1M857 190h1M863 190h1M865 190h1M877 190h1M885 190h1M892 190h1M900 190h1M908 190h1M910 190h1M930 190h1M603 191h28M633 191h1M635 191h6M642 191h4M647 191h1M649 191h2M652 191h2M655 191h6M663 191h2M666 191h4M671 191h1M673 191h6M680 191h2M683 191h3M688 191h4M693 191h2M696 191h1M698 191h1M702 191h1M704 191h1M710 191h1M712 191h1M716 191h1M718 191h4M724 191h1M727 191h1M730 191h2M738 191h2M741 191h2M745 191h2M749 191h1M751 191h2M754 191h1M756 191h1M760 191h1M767 191h1M772 191h1M776 191h1M779 191h3M783 191h4M789 191h1M791 191h1M796 191h2M800 191h1M805 191h1M812 191h1M815 191h1M817 191h3M822 191h1M827 191h1M832 191h1M836 191h2M841 191h1M846 191h1M853 191h1M858 191h1M883 191h1M885 191h1M889 191h1M891 191h1M894 191h1M933 191h1M604 192h13M618 192h2M621 192h4M626 192h2M630 192h1M632 192h7M640 192h4M645 192h4M650 192h1M653 192h1M655 192h2M659 192h2M662 192h7M670 192h1M672 192h2M675 192h2M679 192h6M686 192h4M691 192h3M697 192h1M699 192h2M702 192h1M704 192h1M706 192h2M709 192h1M711 192h1M713 192h2M716 192h1M718 192h5M724 192h3M728 192h1M731 192h1M733 192h2M736 192h1M739 192h1M745 192h1M749 192h2M752 192h1M760 192h1M762 192h1M770 192h2M775 192h1M778 192h1M780 192h1M794 192h1M806 192h1M810 192h1M812 192h2M818 192h1M826 192h1M833 192h1M845 192h1M877 192h2M883 192h1M891 192h1M901 192h1M903 192h1M906 192h2M910 192h1M603 193h18M622 193h2M625 193h1M627 193h1M630 193h3M634 193h2M637 193h8M646 193h10M657 193h1M659 193h2M663 193h2M666 193h2M669 193h2M672 193h1M674 193h4M681 193h2M684 193h4M689 193h1M691 193h1M693 193h4M699 193h2M702 193h4M707 193h2M715 193h1M718 193h3M722 193h1M724 193h1M727 193h1M732 193h2M736 193h1M738 193h1M740 193h1M742 193h1M746 193h1M749 193h1M752 193h1M754 193h1M761 193h2M770 193h1M772 193h1M775 193h1M778 193h1M784 193h1M787 193h6M796 193h1M804 193h1M806 193h1M811 193h1M821 193h1M824 193h1M829 193h1M838 193h1M844 193h1M861 193h1M863 193h1M873 193h1M875 193h1M881 193h2M893 193h2M900 193h1M907 193h1M909 193h1M937 193h2M602 194h17M620 194h8M630 194h8M640 194h4M645 194h5M651 194h15M668 194h9M678 194h6M685 194h7M693 194h4M699 194h3M706 194h1M708 194h2M713 194h1M715 194h3M719 194h2M722 194h1M727 194h5M733 194h1M735 194h1M738 194h2M742 194h1M745 194h1M747 194h2M751 194h1M753 194h2M756 194h1M759 194h3M764 194h2M772 194h1M774 194h1M777 194h2M780 194h1M784 194h1M786 194h1M797 194h1M799 194h1M801 194h1M809 194h1M815 194h1M818 194h2M826 194h1M850 194h1M852 194h2M864 194h1M867 194h1M872 194h1M874 194h1M879 194h1M890 194h2M905 194h1M924 194h1M601 195h1M603 195h13M617 195h10M628 195h8M637 195h8M646 195h9M656 195h6M663 195h2M666 195h1M669 195h3M673 195h1M676 195h1M678 195h4M683 195h1M686 195h1M688 195h1M690 195h2M693 195h1M695 195h2M698 195h2M701 195h1M704 195h1M707 195h5M713 195h6M720 195h2M725 195h1M728 195h2M731 195h1M734 195h1M738 195h1M740 195h2M743 195h1M746 195h1M748 195h1M751 195h2M757 195h1M759 195h1M762 195h1M766 195h1M774 195h1M777 195h1M780 195h1M787 195h1M789 195h1M791 195h1M795 195h2M803 195h1M805 195h1M811 195h1M814 195h2M819 195h1M828 195h1M831 195h1M842 195h1M849 195h1M852 195h1M859 195h1M866 195h1M871 195h1M873 195h1M875 195h1M885 195h1M889 195h1M919 195h1M934 195h1M602 196h20M623 196h2M626 196h27M655 196h4M661 196h1M663 196h2M666 196h2M669 196h4M674 196h2M678 196h1M680 196h3M685 196h3M690 196h8M699 196h3M708 196h3M712 196h2M716 196h1M725 196h1M727 196h1M747 196h1M750 196h1M753 196h2M764 196h1M768 196h1M778 196h1M783 196h2M790 196h1M797 196h1M831 196h1M838 196h1M843 196h2M846 196h1M850 196h2M853 196h2M857 196h1M870 196h2M888 196h1M896 196h1M899 196h1M901 196h1M905 196h1M908 196h1M935 196h1M603 197h7M612 197h2M616 197h12M629 197h4M634 197h1M637 197h5M644 197h8M654 197h2M658 197h1M661 197h7M670 197h2M673 197h2M676 197h10M687 197h6M694 197h1M704 197h3M708 197h2M717 197h1M719 197h3M725 197h3M729 197h2M735 197h3M741 197h2M745 197h1M747 197h3M751 197h2M754 197h2M767 197h1M771 197h2M777 197h1M780 197h1M782 197h3M794 197h1M797 197h1M802 197h1M804 197h2M813 197h1M816 197h1M818 197h2M826 197h1M828 197h1M831 197h2M860 197h1M864 197h1M866 197h1M873 197h1M880 197h1M891 197h1M899 197h1M906 197h1M908 197h1M916 197h1M603 198h5M609 198h8M619 198h2M622 198h3M626 198h4M631 198h1M634 198h2M638 198h1M640 198h2M643 198h1M645 198h2M649 198h9M659 198h5M666 198h5M673 198h1M676 198h1M678 198h1M680 198h5M686 198h5M694 198h1M696 198h1M698 198h2M704 198h1M706 198h1M713 198h1M715 198h3M719 198h1M725 198h1M732 198h1M735 198h1M741 198h1M743 198h1M746 198h2M749 198h2M753 198h1M760 198h1M763 198h1M767 198h1M772 198h2M779 198h2M784 198h1M795 198h1M799 198h1M802 198h1M805 198h1M808 198h2M817 198h1M822 198h1M826 198h1M828 198h1M833 198h1M836 198h3M842 198h1M847 198h1M851 198h1M853 198h3M884 198h1M890 198h1M894 198h1M896 198h2M902 198h1M907 198h1M921 198h2M925 198h1M601 199h1M603 199h13M617 199h21M640 199h2M643 199h4M648 199h5M654 199h1M658 199h1M660 199h1M664 199h4M669 199h2M672 199h6M679 199h2M682 199h1M684 199h2M688 199h6M698 199h1M700 199h5M706 199h6M714 199h2M717 199h1M720 199h1M722 199h4M730 199h1M739 199h1M741 199h1M743 199h1M750 199h1M755 199h1M761 199h1M764 199h1M766 199h1M775 199h1M777 199h2M781 199h1M783 199h1M785 199h1M787 199h1M792 199h1M795 199h2M805 199h1M809 199h1M812 199h2M815 199h1M823 199h1M839 199h1M844 199h1M850 199h1M859 199h1M865 199h1M867 199h3M877 199h2M881 199h1M912 199h1M601 200h11M614 200h2M617 200h6M624 200h1M626 200h2M629 200h2M633 200h1M635 200h1M637 200h5M644 200h1M647 200h3M651 200h1M653 200h3M657 200h10M669 200h2M673 200h2M676 200h3M680 200h7M688 200h2M692 200h1M694 200h1M696 200h1M698 200h1M702 200h2M707 200h1M709 200h1M715 200h1M717 200h3M721 200h1M723 200h4M732 200h1M734 200h1M737 200h1M740 200h1M753 200h1M755 200h1M758 200h1M760 200h1M762 200h6M769 200h1M772 200h2M777 200h1M780 200h1M792 200h1M797 200h1M799 200h1M803 200h1M805 200h1M811 200h1M813 200h1M827 200h1M829 200h1M832 200h1M847 200h1M850 200h1M853 200h1M855 200h1M857 200h1M867 200h1M870 200h1M872 200h1M877 200h1M879 200h3M883 200h1M892 200h1M900 200h1M903 200h1M907 200h1M910 200h1M920 200h1M934 200h1M602 201h7M610 201h8M620 201h2M624 201h3M628 201h3M632 201h1M634 201h1M637 201h2M640 201h1M642 201h3M647 201h1M650 201h2M653 201h2M657 201h2M660 201h1M662 201h2M666 201h7M675 201h3M679 201h1M681 201h2M684 201h3M688 201h5M695 201h1M697 201h3M707 201h1M709 201h3M714 201h1M717 201h1M722 201h6M731 201h1M733 201h1M736 201h1M743 201h1M746 201h1M748 201h1M753 201h1M759 201h2M762 201h1M766 201h1M770 201h1M772 201h2M776 201h2M783 201h2M786 201h1M788 201h1M794 201h1M796 201h1M799 201h1M806 201h1M809 201h1M813 201h1M819 201h4M827 201h1M835 201h1M842 201h1M844 201h2M848 201h1M850 201h1M859 201h3M866 201h1M874 201h2M881 201h1M887 201h1M928 201h1M931 201h1M601 202h16M618 202h6M625 202h4M630 202h4M635 202h2M638 202h12M651 202h2M654 202h3M658 202h2M661 202h10M672 202h1M675 202h1M677 202h2M682 202h6M689 202h1M692 202h2M695 202h1M697 202h3M701 202h6M708 202h1M712 202h2M716 202h2M721 202h4M727 202h3M732 202h3M738 202h2M741 202h3M746 202h1M753 202h2M757 202h2M760 202h1M762 202h3M766 202h1M770 202h3M776 202h1M790 202h2M793 202h1M795 202h1M797 202h2M801 202h1M807 202h3M813 202h1M815 202h1M820 202h1M825 202h1M830 202h1M844 202h1M848 202h1M851 202h2M856 202h1M859 202h1M862 202h2M870 202h1M872 202h1M876 202h1M878 202h1M884 202h1M888 202h1M911 202h1M920 202h1M922 202h1M924 202h1M937 202h1M600 203h16M617 203h1M619 203h5M625 203h2M628 203h2M633 203h3M638 203h2M641 203h9M651 203h3M655 203h4M660 203h5M666 203h5M672 203h15M688 203h1M692 203h3M696 203h2M702 203h1M704 203h4M710 203h2M714 203h4M720 203h1M722 203h1M724 203h1M727 203h2M730 203h3M737 203h1M746 203h1M748 203h2M751 203h1M753 203h1M756 203h2M759 203h1M764 203h1M771 203h1M773 203h1M775 203h1M779 203h1M783 203h1M787 203h1M789 203h3M793 203h1M795 203h3M802 203h1M807 203h2M814 203h3M818 203h1M821 203h1M823 203h1M831 203h1M833 203h1M839 203h1M849 203h3M854 203h1M856 203h1M860 203h1M863 203h3M867 203h2M874 203h1M877 203h1M900 203h1M911 203h1M937 203h1M601 204h9M611 204h10M623 204h2M626 204h2M629 204h31M661 204h4M666 204h2M671 204h1M673 204h6M680 204h1M687 204h1M689 204h6M699 204h2M703 204h1M705 204h1M709 204h1M712 204h1M715 204h2M718 204h1M720 204h1M723 204h4M728 204h1M733 204h2M736 204h4M741 204h1M743 204h1M745 204h1M747 204h1M762 204h2M767 204h1M769 204h2M773 204h3M779 204h1M782 204h2M785 204h2M789 204h2M792 204h1M794 204h3M798 204h1M802 204h3M806 204h1M810 204h2M814 204h1M817 204h3M825 204h1M827 204h1M829 204h1M834 204h1M836 204h1M842 204h3M853 204h3M861 204h1M865 204h1M868 204h1M870 204h1M873 204h1M879 204h1M890 204h1M893 204h1M896 204h1M911 204h1M924 204h1M601 205h10M612 205h2M615 205h8M624 205h1M627 205h3M632 205h7M641 205h1M643 205h3M648 205h1M650 205h2M657 205h3M661 205h1M663 205h1M667 205h6M674 205h1M676 205h3M682 205h1M684 205h1M690 205h3M696 205h1M698 205h1M701 205h3M705 205h1M708 205h1M710 205h1M712 205h1M714 205h1M717 205h1M725 205h1M727 205h3M731 205h1M739 205h3M746 205h1M749 205h2M757 205h1M761 205h1M764 205h1M768 205h1M773 205h1M775 205h1M783 205h1M785 205h1M792 205h1M799 205h1M801 205h2M809 205h1M811 205h1M813 205h3M817 205h1M821 205h1M823 205h1M828 205h1M830 205h2M834 205h1M840 205h2M844 205h1M847 205h1M853 205h1M860 205h1M871 205h1M884 205h1M903 205h1M911 205h1M926 205h1M929 205h1M601 206h7M610 206h9M620 206h1M622 206h1M624 206h3M628 206h4M635 206h5M642 206h3M646 206h2M649 206h3M655 206h8M664 206h4M670 206h4M676 206h1M685 206h2M688 206h1M690 206h2M693 206h1M695 206h1M697 206h1M701 206h1M710 206h1M717 206h1M720 206h2M725 206h1M733 206h1M742 206h1M747 206h1M752 206h1M756 206h3M766 206h1M772 206h1M778 206h1M788 206h1M801 206h2M807 206h1M819 206h1M830 206h1M833 206h1M835 206h1M837 206h1M847 206h2M871 206h1M881 206h1M883 206h1M888 206h1M900 206h1M902 206h1M929 206h1M601 207h6M609 207h3M613 207h3M617 207h4M623 207h1M625 207h2M633 207h6M641 207h2M644 207h1M646 207h4M651 207h3M656 207h3M660 207h2M663 207h1M666 207h2M670 207h2M676 207h1M678 207h1M681 207h2M689 207h1M692 207h1M698 207h1M701 207h1M706 207h4M721 207h1M725 207h1M731 207h1M740 207h1M743 207h1M749 207h1M760 207h1M776 207h1M792 207h2M809 207h1M819 207h1M833 207h2M839 207h1M848 207h1M855 207h1M866 207h1M871 207h1M875 207h2M878 207h1M893 207h1M905 207h1M919 207h1M599 208h5M605 208h2M608 208h7M616 208h4M622 208h2M625 208h7M633 208h1M636 208h1M639 208h1M642 208h5M649 208h1M653 208h1M657 208h1M660 208h2M663 208h2M666 208h1M670 208h2M677 208h3M681 208h1M686 208h4M691 208h1M694 208h1M710 208h1M713 208h1M718 208h1M730 208h1M735 208h1M737 208h1M739 208h1M742 208h1M751 208h1M757 208h1M782 208h1M790 208h2M798 208h1M807 208h1M828 208h1M831 208h2M838 208h1M857 208h1M877 208h1M894 208h1M905 208h1M907 208h1M600 209h6M608 209h4M613 209h1M615 209h3M619 209h5M626 209h3M632 209h3M637 209h3M641 209h2M644 209h1M647 209h2M650 209h1M653 209h1M655 209h2M658 209h1M663 209h2M669 209h2M672 209h1M674 209h2M677 209h1M681 209h1M686 209h2M693 209h2M700 209h1M708 209h1M713 209h1M732 209h1M757 209h2M763 209h2M767 209h1M777 209h1M781 209h1M784 209h1M786 209h1M805 209h1M807 209h1M814 209h1M816 209h1M827 209h1M829 209h1M850 209h1M857 209h1M879 209h1M901 209h1M601 210h7M609 210h3M613 210h5M620 210h2M624 210h1M626 210h1M629 210h3M634 210h3M639 210h2M643 210h3M647 210h1M649 210h1M654 210h1M658 210h4M664 210h2M667 210h1M671 210h1M678 210h1M685 210h1M692 210h1M695 210h1M697 210h2M703 210h2M707 210h1M709 210h1M711 210h1M713 210h1M716 210h1M719 210h1M728 210h1M731 210h1M743 210h1M750 210h2M758 210h2M763 210h1M768 210h1M780 210h1M815 210h1M818 210h1M832 210h1M838 210h1M856 210h1M875 210h1M879 210h1M884 210h1M936 210h1M601 211h6M609 211h4M615 211h3M619 211h2M623 211h1M626 211h4M633 211h1M637 211h4M642 211h1M645 211h1M650 211h4M656 211h1M658 211h1M660 211h1M664 211h4M675 211h1M677 211h2M682 211h1M694 211h1M711 211h1M717 211h1M721 211h2M730 211h1M739 211h2M742 211h2M752 211h1M757 211h1M762 211h1M768 211h1M774 211h1M793 211h1M802 211h1M813 211h3M837 211h1M859 211h1M898 211h1M912 211h1M922 211h1M599 212h8M608 212h3M613 212h2M617 212h2M620 212h1M622 212h2M625 212h2M630 212h1M633 212h3M640 212h1M647 212h3M662 212h1M664 212h1M666 212h1M672 212h1M675 212h2M681 212h1M684 212h1M689 212h1M693 212h1M697 212h1M700 212h1M702 212h2M710 212h1M719 212h2M725 212h1M737 212h1M783 212h1M804 212h1M823 212h1M846 212h1M874 212h1M896 212h1M600 213h5M607 213h1M610 213h3M614 213h1M617 213h1M622 213h3M626 213h1M629 213h1M631 213h1M633 213h1M637 213h2M640 213h1M644 213h1M651 213h1M653 213h1M655 213h1M658 213h2M664 213h1M667 213h1M669 213h1M674 213h2M678 213h1M686 213h1M690 213h1M696 213h1M704 213h1M716 213h1M718 213h1M721 213h1M727 213h1M744 213h1M805 213h1M821 213h1M825 213h1M922 213h1M600 214h2M603 214h8M614 214h2M621 214h1M627 214h1M629 214h1M631 214h2M637 214h2M644 214h1M651 214h1M653 214h1M655 214h2M660 214h3M664 214h1M682 214h1M709 214h1M734 214h1M740 214h1M748 214h1M784 214h1M809 214h1M811 214h1M816 214h1M876 214h1M890 214h1M599 215h4M606 215h1M608 215h4M613 215h1M617 215h1M619 215h2M627 215h3M637 215h1M649 215h1M651 215h2M658 215h1M664 215h1M672 215h1M674 215h1M678 215h1M685 215h1M721 215h1M737 215h1M746 215h1M771 215h1M797 215h1M808 215h1M823 215h1M851 215h1M858 215h1M600 216h9M610 216h3M615 216h1M619 216h1M622 216h1M625 216h1M627 216h1M629 216h2M635 216h1M641 216h1M651 216h1M653 216h1M656 216h1M659 216h1M663 216h1M666 216h1M682 216h1M688 216h1M691 216h1M696 216h1M706 216h1M726 216h1M799 216h1M805 216h1M849 216h1M855 216h1M600 217h2M603 217h3M608 217h1M615 217h1M617 217h2M620 217h1M624 217h2M627 217h2M636 217h1M639 217h2M644 217h1M648 217h1M655 217h1M657 217h2M671 217h2M692 217h1M699 217h1M709 217h1M723 217h1M750 217h1M788 217h1M926 217h1M599 218h6M606 218h1M611 218h1M615 218h1M617 218h2M624 218h3M628 218h1M636 218h2M640 218h1M647 218h2M653 218h1M656 218h1M659 218h1M664 218h1M670 218h1M685 218h1M712 218h2M725 218h1M800 218h1M599 219h2M604 219h1M614 219h1M618 219h2M623 219h1M630 219h1M632 219h1M635 219h1M638 219h2M645 219h1M647 219h1M656 219h1M658 219h2M685 219h1M689 219h1M704 219h1M721 219h1M729 219h1M756 219h1M868 219h1M600 220h5M607 220h1M609 220h1M619 220h1M626 220h1M635 220h1M638 220h1M643 220h1M649 220h1M651 220h1M654 220h1M672 220h1M686 220h1M691 220h1M693 220h1M695 220h1M730 220h1M741 220h1M753 220h1M779 220h1M783 220h1M791 220h1M599 221h3M610 221h1M613 221h2M619 221h1M621 221h1M635 221h1M639 221h1M644 221h1M653 221h1M663 221h1M690 221h1M715 221h1M735 221h1M781 221h1M816 221h1M597 222h1M600 222h1M603 222h1M613 222h3M617 222h1M619 222h1M622 222h1M629 222h1M635 222h1M638 222h1M641 222h1M644 222h1M664 222h1M676 222h1M684 222h1M688 222h1M690 222h1M696 222h1M708 222h1M784 222h1M599 223h5M607 223h1M609 223h1M614 223h1M616 223h1M638 223h1M641 223h1M644 223h1M650 223h1M663 223h1M700 223h2M711 223h1M754 223h1M760 223h1M800 223h1M856 223h1M598 224h4M603 224h1M605 224h1M630 224h1M632 224h1M637 224h1M646 224h1M656 224h1M665 224h1M668 224h1M670 224h1M678 224h1M686 224h1M765 224h1M598 225h5M607 225h2M611 225h1M617 225h2M637 225h1M641 225h2M652 225h1M685 225h1M696 225h2M730 225h1M734 225h1M598 226h1M601 226h1M603 226h2M630 226h1M644 226h1M653 226h2M674 226h1M702 226h1M706 226h1M715 226h1M732 226h1M760 226h1M777 226h1M786 226h1M598 227h6M607 227h1M622 227h1M632 227h1M663 227h1M693 227h1M713 227h1M726 227h1M737 227h1M775 227h1M786 227h1M801 227h1M601 228h1M604 228h1M608 228h1M610 228h1M623 228h1M652 228h1M665 228h1M712 228h1M818 228h1M822 228h1M598 229h4M603 229h1M612 229h1M616 229h1M620 229h1M624 229h1M630 229h1M636 229h1M647 229h1M667 229h1M710 229h1M873 229h1M596 230h1M599 230h1M603 230h3M616 230h1M640 230h1M644 230h1M666 230h2M683 230h1M692 230h1M709 230h1M788 230h1M917 230h1M598 231h2M606 231h1M610 231h1M617 231h1M626 231h1M632 231h1M644 231h1M668 231h1M730 231h1M598 232h3M602 232h2M605 232h3M609 232h1M612 232h1M614 232h4M619 232h5M625 232h2M633 232h1M638 232h1M642 232h1M644 232h2M647 232h1M649 232h3M655 232h1M659 232h1M664 232h1M667 232h1M670 232h2M674 232h1M677 232h1M682 232h1M686 232h4M697 232h1M699 232h1M701 232h1M710 232h1M714 232h2M721 232h1M752 232h1M598 233h3M602 233h2M606 233h1M608 233h2M611 233h4M616 233h1M620 233h1M625 233h1M629 233h1M634 233h1M636 233h1M639 233h1M642 233h2M645 233h1M647 233h1M649 233h1M654 233h1M657 233h1M660 233h1M663 233h5M677 233h1M680 233h2M683 233h1M689 233h2M694 233h1M697 233h1M702 233h2M708 233h1M713 233h1M719 233h1M596 234h1M598 234h1M607 234h1M609 234h1M627 234h1M641 234h1M691 234h1M789 234h1M834 234h1M596 235h3M617 235h1M665 235h1M668 235h1M695 235h1M598 236h1M600 236h1M604 236h1M655 236h1M725 236h2M931 236h1M597 237h6M606 237h1M608 237h1M611 237h1M650 237h1M671 237h1M694 237h1M795 237h1M600 238h2M612 238h1M619 238h1M629 238h1M661 238h1M696 238h1M705 238h1M596 239h2M605 239h1M608 239h1M665 239h1M718 239h1M736 239h1M914 239h1M599 240h1M603 240h1M610 240h1M640 240h1M644 240h1M661 240h1M697 240h1M728 240h1M949 240h1M595 241h5M601 241h1M604 241h5M610 241h1M612 241h1M615 241h4M621 241h3M626 241h1M630 241h6M639 241h1M641 241h1M644 241h4M649 241h2M652 241h2M656 241h1M659 241h4M665 241h2M668 241h1M670 241h1M673 241h1M676 241h1M680 241h1M684 241h1M686 241h1M697 241h1M704 241h1M761 241h1M818 241h1M596 242h6M603 242h3M608 242h1M617 242h3M622 242h1M629 242h1M631 242h1M634 242h1M647 242h1M649 242h1M651 242h4M658 242h1M662 242h3M670 242h1M673 242h1M675 242h2M679 242h1M681 242h1M685 242h2M689 242h1M694 242h1M701 242h1M594 243h1M598 243h2M601 243h2M607 243h1M870 243h1M598 244h2M615 244h1M618 244h1M621 244h1M812 244h1M595 245h3M605 245h1M621 245h1M625 245h1M688 245h1M595 246h2M601 246h1M606 246h1M614 246h1M641 246h1M660 246h1M702 246h1M756 246h1M827 246h1M596 247h1M599 247h1M616 247h1M639 247h1M649 247h1M666 247h1M696 247h1M593 248h1M596 248h3M600 248h1M602 248h1M609 248h1M687 248h1M690 248h1M750 248h1M761 248h1M901 248h1M597 249h1M613 249h1M653 249h1M893 249h1M593 250h1M595 250h3M605 250h1M636 250h1M654 250h1M657 250h1M683 250h1M868 250h1M593 251h1M595 251h1M599 251h1M608 251h1M625 251h1M642 251h1M680 251h1M787 251h1M867 251h1M595 252h2M599 252h1M610 252h1M643 252h1M682 252h1M701 252h1M732 252h1M774 252h1M594 253h2M598 253h1M600 253h1M753 253h1M759 253h1M594 254h2M597 254h1M600 254h1M608 254h1M630 254h1M646 254h1M692 254h1M883 254h1M593 255h4M599 255h1M607 255h1M637 255h1M675 255h1M690 255h1M704 255h2M789 255h1M813 255h1M884 255h1M594 256h1M596 256h1M649 256h1M659 256h1M594 257h1M617 257h1M665 257h1M685 257h1M702 257h1M723 257h1M815 257h1M594 258h2M600 258h2M603 258h1M919 258h1M593 259h3M597 259h2M624 259h1M650 259h1M670 259h1M681 259h1M701 259h1M721 259h1M774 259h1M813 259h1M593 260h2M596 260h1M603 260h1M605 260h1M607 260h1M628 260h1M645 260h1M593 261h2M601 261h1M648 261h1M708 261h1M592 262h1M594 262h1M607 262h1M612 262h1M705 262h1M842 262h1M592 263h3M596 263h1M609 263h1M705 263h1M716 263h1M592 264h1M594 264h1M596 264h3M626 264h1M681 264h1M739 264h1M845 264h1M874 264h1M593 265h1M595 265h2M598 265h1M605 265h1M613 265h1M645 265h1M796 265h1M592 266h2M595 266h1M597 266h1M605 266h1M651 266h1M592 267h6M678 267h1M591 268h3M596 268h1M599 268h1M797 268h1M816 268h1M592 269h3M602 269h1M609 269h1M648 269h1M670 269h1M710 269h1M750 269h1M592 270h2M595 270h1M597 270h2M600 270h1M603 270h1M749 270h1M757 270h1M592 271h3M597 271h1M599 271h1M601 271h1M617 271h1M783 271h1M591 272h1M593 272h1M597 272h1M612 272h1M635 272h1M645 272h1M847 272h1M882 272h1M589 273h2M592 273h1M594 273h2M630 273h1M655 273h1M665 273h1" stroke="#2a2a2a" stroke-width="1" transform="translate(0 0.5)"/>
<path d="M603.6 185.5H722L700 187.5L676 189.5L640 193.8L604 196.5Z" fill="#000"/>
<path d="M602.5 176.4H947.8M603.6 185.6H947.8" stroke="#000" stroke-width="1.1"/>
<path d="M657 84.8C656.8 82.5 659.5 81.2 661.8 82.2C663.8 83.2 664 86.2 662.6 88.2C664.8 88.4 667.2 89.8 667.6 92.2C668 94.8 665.8 96.2 663.4 95.6C661.2 95 659.6 93.2 660.2 90.8C658.2 89.8 657.2 87.2 657 84.8Z" fill="#000"/>
<path d="M60.5 542.5H60.7V541.6H60.9V542.5H61.1V540.9H61.3V541.1H61.5V541.8H61.7V541.6H61.9V539.0H62.1V542.5H62.3V542.5H62.5V540.4H62.7V540.9H62.9V541.6H63.0V539.5H63.2V541.5H63.4V539.2H63.6V540.9H63.8V542.3H64.0V539.9H64.2V542.0H64.4V542.0H64.6V541.5H64.8V540.0H65.0V539.6H65.2V537.8H65.4V540.1H65.6V539.0H65.8V523.4H66.0V518.8H66.2V514.7H66.4V511.6H66.6V503.3H66.8V487.5H67.0V467.6H67.2V457.6H67.4V463.5H67.6V419.0H67.8V419.6H67.9V409.6H68.1V390.5H68.3V403.6H68.5V420.9H68.7V462.1H68.9V499.4H69.1V520.2H69.3V522.1H69.5V540.1H69.7V540.7H69.9V541.5H70.1V541.2H70.3V540.5H70.5V540.3H70.7V540.5H70.9V539.5H71.1V542.3H71.3V540.2H71.5V541.1H71.7V539.6H71.9V538.0H72.1V539.7H72.3V542.2H72.5V539.9H72.7V538.6H72.8V542.0H73.0V540.9H73.2V538.4H73.4V542.5H73.6V541.4H73.8V537.5H74.0V535.0H74.2V540.8H74.4V541.3H74.6V542.5H74.8V542.4H75.0V539.1H75.2V540.7H75.4V542.5H75.6V540.5H75.8V540.8H76.0V542.5H76.2V538.9H76.4V542.5H76.6V539.4H76.8V541.3H77.0V539.1H77.2V537.8H77.4V540.7H77.6V533.9H77.7V542.4H77.9V523.5H78.1V509.6H78.3V500.9H78.5V495.9H78.7V464.2H78.9V475.8H79.1V444.2H79.3V444.3H79.5V454.4H79.7V414.2H79.9V405.1H80.1V405.0H80.3V365.2H80.5V393.3H80.7V373.6H80.9V349.1H81.1V379.8H81.3V417.9H81.5V380.5H81.7V394.4H81.9V372.4H82.1V360.9H82.3V370.9H82.5V362.9H82.6V395.3H82.8V389.2H83.0V379.4H83.2V368.6H83.4V374.4H83.6V374.1H83.8V385.8H84.0V393.4H84.2V372.1H84.4V375.9H84.6V408.0H84.8V376.6H85.0V401.3H85.2V361.3H85.4V381.4H85.6V356.3H85.8V386.9H86.0V384.7H86.2V374.8H86.4V368.5H86.6V384.1H86.8V380.2H87.0V404.7H87.2V373.6H87.4V386.4H87.5V388.0H87.7V375.3H87.9V393.0H88.1V387.2H88.3V401.5H88.5V381.8H88.7V383.4H88.9V410.0H89.1V373.9H89.3V388.8H89.5V377.4H89.7V422.2H89.9V387.2H90.1V387.1H90.3V402.5H90.5V380.9H90.7V382.6H90.9V381.3H91.1V382.7H91.3V401.5H91.5V392.1H91.7V429.5H91.9V388.6H92.1V391.4H92.3V371.8H92.4V367.7H92.6V403.4H92.8V407.7H93.0V398.8H93.2V396.0H93.4V391.6H93.6V421.1H93.8V392.2H94.0V402.3H94.2V389.3H94.4V367.5H94.6V369.8H94.8V377.6H95.0V396.5H95.2V400.4H95.4V417.7H95.6V416.6H95.8V412.9H96.0V377.4H96.2V408.3H96.4V392.8H96.6V406.0H96.8V395.9H97.0V404.5H97.2V408.7H97.3V398.4H97.5V431.5H97.7V419.0H97.9V366.6H98.1V399.3H98.3V437.7H98.5V405.1H98.7V410.0H98.9V409.9H99.1V387.0H99.3V403.3H99.5V409.9H99.7V390.3H99.9V390.0H100.1V402.0H100.3V384.4H100.5V404.4H100.7V425.7H100.9V413.4H101.1V378.3H101.3V380.0H101.5V424.2H101.7V408.2H101.9V404.8H102.1V397.2H102.2V431.4H102.4V390.0H102.6V395.5H102.8V409.7H103.0V376.7H103.2V388.8H103.4V416.3H103.6V371.2H103.8V434.9H104.0V412.9H104.2V415.0H104.4V408.7H104.6V430.3H104.8V421.7H105.0V406.7H105.2V403.6H105.4V400.0H105.6V389.5H105.8V421.0H106.0V396.8H106.2V411.0H106.4V429.8H106.6V409.7H106.8V412.3H107.0V415.8H107.1V430.5H107.3V408.7H107.5V421.2H107.7V407.6H107.9V397.7H108.1V409.3H108.3V389.2H108.5V411.4H108.7V419.7H108.9V413.0H109.1V409.0H109.3V417.9H109.5V410.5H109.7V424.9H109.9V419.6H110.1V400.7H110.3V399.7H110.5V438.5H110.7V388.2H110.9V426.9H111.1V430.1H111.3V407.0H111.5V392.7H111.7V407.1H111.9V432.4H112.0V401.6H112.2V420.7H112.4V414.7H112.6V411.0H112.8V406.4H113.0V416.4H113.2V414.1H113.4V417.2H113.6V409.5H113.8V418.9H114.0V423.7H114.2V404.9H114.4V412.6H114.6V416.2H114.8V433.4H115.0V433.4H115.2V420.4H115.4V431.3H115.6V403.3H115.8V426.9H116.0V424.3H116.2V432.3H116.4V412.7H116.6V443.4H116.8V412.5H116.9V400.5H117.1V419.8H117.3V414.7H117.5V415.1H117.7V414.2H117.9V427.9H118.1V428.8H118.3V442.8H118.5V426.2H118.7V419.8H118.9V411.0H119.1V444.0H119.3V441.5H119.5V428.0H119.7V431.6H119.9V419.5H120.1V448.0H120.3V420.0H120.5V434.4H120.7V406.2H120.9V417.4H121.1V431.5H121.3V424.7H121.5V432.8H121.7V422.2H121.8V437.1H122.0V426.4H122.2V423.8H122.4V431.2H122.6V435.3H122.8V424.3H123.0V431.8H123.2V411.9H123.4V435.8H123.6V415.6H123.8V430.7H124.0V430.6H124.2V427.1H124.4V423.1H124.6V416.6H124.8V416.3H125.0V407.1H125.2V418.1H125.4V416.1H125.6V420.9H125.8V417.5H126.0V424.5H126.2V424.2H126.4V425.2H126.6V424.5H126.7V435.6H126.9V439.4H127.1V423.6H127.3V422.7H127.5V430.5H127.7V407.4H127.9V447.4H128.1V438.4H128.3V436.5H128.5V430.8H128.7V437.1H128.9V411.8H129.1V415.8H129.3V431.3H129.5V416.4H129.7V424.2H129.9V440.3H130.1V436.0H130.3V424.6H130.5V416.3H130.7V444.8H130.9V406.4H131.1V451.1H131.3V428.1H131.5V441.7H131.6V440.2H131.8V422.7H132.0V421.7H132.2V440.1H132.4V432.7H132.6V442.8H132.8V412.6H133.0V434.6H133.2V433.9H133.4V414.9H133.6V423.1H133.8V422.0H134.0V447.9H134.2V413.7H134.4V414.8H134.6V411.2H134.8V436.8H135.0V437.9H135.2V445.9H135.4V431.6H135.6V428.9H135.8V441.5H136.0V426.0H136.2V428.6H136.4V434.7H136.5V430.7H136.7V431.1H136.9V422.3H137.1V425.4H137.3V439.1H137.5V462.8H137.7V431.2H137.9V424.7H138.1V448.2H138.3V429.2H138.5V450.1H138.7V423.1H138.9V449.7H139.1V457.8H139.3V413.0H139.5V434.3H139.7V439.1H139.9V440.2H140.1V450.6H140.3V428.2H140.5V457.9H140.7V438.7H140.9V460.6H141.1V424.8H141.3V438.9H141.4V430.8H141.6V442.1H141.8V439.5H142.0V446.7H142.2V442.3H142.4V445.0H142.6V459.7H142.8V447.5H143.0V459.3H143.2V446.1H143.4V425.9H143.6V443.6H143.8V414.6H144.0V458.1H144.2V446.5H144.4V442.7H144.6V455.2H144.8V432.6H145.0V453.5H145.2V433.4H145.4V429.4H145.6V440.4H145.8V440.2H146.0V431.6H146.2V462.6H146.3V457.4H146.5V445.1H146.7V461.7H146.9V445.0H147.1V418.4H147.3V429.3H147.5V446.6H147.7V436.7H147.9V459.9H148.1V469.8H148.3V475.1H148.5V442.3H148.7V434.5H148.9V450.5H149.1V450.0H149.3V436.1H149.5V439.0H149.7V437.6H149.9V430.6H150.1V472.8H150.3V441.0H150.5V449.4H150.7V447.5H150.9V453.4H151.1V474.3H151.2V454.1H151.4V438.9H151.6V430.0H151.8V416.2H152.0V445.7H152.2V455.5H152.4V454.9H152.6V436.8H152.8V454.7H153.0V461.4H153.2V460.3H153.4V426.8H153.6V449.5H153.8V454.6H154.0V451.0H154.2V440.3H154.4V443.9H154.6V447.6H154.8V456.5H155.0V444.7H155.2V472.4H155.4V450.7H155.6V451.1H155.8V434.8H156.0V446.0H156.1V433.7H156.3V432.5H156.5V453.3H156.7V442.4H156.9V433.9H157.1V425.2H157.3V437.7H157.5V436.8H157.7V442.4H157.9V421.0H158.1V461.5H158.3V422.7H158.5V431.3H158.7V446.3H158.9V470.0H159.1V432.0H159.3V460.7H159.5V442.3H159.7V444.6H159.9V450.4H160.1V450.7H160.3V460.4H160.5V457.9H160.7V433.8H160.9V448.3H161.0V443.1H161.2V414.3H161.4V443.4H161.6V440.1H161.8V447.2H162.0V451.1H162.2V434.4H162.4V444.4H162.6V470.8H162.8V439.8H163.0V470.1H163.2V429.8H163.4V453.5H163.6V449.9H163.8V447.9H164.0V448.6H164.2V448.8H164.4V447.7H164.6V455.2H164.8V461.3H165.0V418.9H165.2V455.3H165.4V452.6H165.6V437.3H165.8V442.5H165.9V468.4H166.1V452.1H166.3V457.8H166.5V453.6H166.7V452.8H166.9V452.6H167.1V421.7H167.3V448.1H167.5V455.3H167.7V435.3H167.9V457.3H168.1V431.0H168.3V438.0H168.5V430.6H168.7V433.0H168.9V449.7H169.1V429.7H169.3V468.0H169.5V448.3H169.7V451.1H169.9V437.9H170.1V436.6H170.3V449.4H170.5V448.5H170.7V462.4H170.8V436.5H171.0V453.5H171.2V438.4H171.4V435.3H171.6V468.3H171.8V454.5H172.0V456.0H172.2V443.3H172.4V454.6H172.6V449.0H172.8V436.8H173.0V446.9H173.2V451.2H173.4V460.6H173.6V435.7H173.8V433.5H174.0V460.7H174.2V450.0H174.4V470.5H174.6V446.7H174.8V445.5H175.0V424.8H175.2V448.0H175.4V466.7H175.6V455.3H175.7V448.4H175.9V458.4H176.1V468.1H176.3V437.1H176.5V477.5H176.7V456.5H176.9V464.2H177.1V441.9H177.3V440.5H177.5V460.7H177.7V439.6H177.9V437.8H178.1V429.9H178.3V444.4H178.5V451.6H178.7V462.0H178.9V441.1H179.1V449.3H179.3V445.2H179.5V477.4H179.7V462.1H179.9V435.3H180.1V456.4H180.3V456.6H180.5V461.0H180.6V442.7H180.8V453.0H181.0V436.5H181.2V450.5H181.4V435.0H181.6V436.4H181.8V418.8H182.0V467.8H182.2V447.9H182.4V451.6H182.6V441.1H182.8V437.7H183.0V418.5H183.2V463.4H183.4V449.1H183.6V456.6H183.8V441.6H184.0V461.6H184.2V467.0H184.4V441.9H184.6V446.4H184.8V452.8H185.0V445.5H185.2V443.3H185.4V415.3H185.5V453.9H185.7V442.6H185.9V436.8H186.1V445.5H186.3V458.1H186.5V443.8H186.7V440.6H186.9V468.4H187.1V453.6H187.3V455.4H187.5V454.1H187.7V452.1H187.9V434.4H188.1V453.6H188.3V448.9H188.5V464.2H188.7V437.4H188.9V447.9H189.1V465.4H189.3V460.4H189.5V459.1H189.7V457.2H189.9V450.6H190.1V460.0H190.3V442.3H190.4V449.7H190.6V447.4H190.8V459.1H191.0V467.7H191.2V440.5H191.4V441.3H191.6V459.8H191.8V460.1H192.0V442.6H192.2V446.7H192.4V449.9H192.6V443.9H192.8V422.1H193.0V445.9H193.2V457.8H193.4V455.1H193.6V464.4H193.8V452.7H194.0V474.4H194.2V451.0H194.4V448.6H194.6V455.5H194.8V451.2H195.0V454.4H195.2V468.6H195.3V473.9H195.5V444.5H195.7V471.4H195.9V469.2H196.1V463.5H196.3V490.8H196.5V479.2H196.7V464.3H196.9V471.5H197.1V482.0H197.3V476.3H197.5V479.6H197.7V456.7H197.9V470.5H198.1V470.0H198.3V461.2H198.5V482.7H198.7V473.3H198.9V477.8H199.1V470.5H199.3V474.0H199.5V465.9H199.7V475.6H199.9V467.2H200.1V486.6H200.2V465.2H200.4V482.2H200.6V487.6H200.8V478.5H201.0V486.0H201.2V484.4H201.4V491.5H201.6V482.4H201.8V490.3H202.0V485.1H202.2V482.1H202.4V496.0H202.6V494.6H202.8V486.9H203.0V491.4H203.2V504.0H203.4V486.1H203.6V479.5H203.8V499.3H204.0V479.0H204.2V489.6H204.4V476.6H204.6V501.4H204.8V503.2H205.0V495.3H205.1V492.9H205.3V505.9H205.5V515.1H205.7V498.7H205.9V494.0H206.1V505.9H206.3V498.1H206.5V503.4H206.7V516.5H206.9V508.3H207.1V498.1H207.3V500.0H207.5V498.3H207.7V498.9H207.9V509.2H208.1V508.8H208.3V502.8H208.5V493.8H208.7V495.4H208.9V498.5H209.1V510.7H209.3V501.2H209.5V508.3H209.7V513.7H209.9V494.1H210.0V515.1H210.2V514.9H210.4V507.4H210.6V514.6H210.8V513.1H211.0V511.0H211.2V519.4H211.4V518.2H211.6V516.4H211.8V507.9H212.0V500.3H212.2V502.3H212.4V515.0H212.6V507.2H212.8V512.7H213.0V527.4H213.2V535.0H213.4V514.8H213.6V516.4H213.8V509.5H214.0V524.0H214.2V520.5H214.4V519.7H214.6V509.6H214.8V514.3H214.9V513.9H215.1V515.9H215.3V518.0H215.5V523.5H215.7V513.2H215.9V518.9H216.1V516.7H216.3V520.5H216.5V526.1H216.7V527.4H216.9V517.8H217.1V513.2H217.3V518.3H217.5V528.7H217.7V530.8H217.9V523.5H218.1V530.1H218.3V530.0H218.5V523.5H218.7V530.2H218.9V532.4H219.1V527.1H219.3V533.7H219.5V529.3H219.7V530.6H219.8V532.7H220.0V536.2H220.2V529.9H220.4V528.6H220.6V531.4H220.8V525.3H221.0V529.0H221.2V527.1H221.4V528.4H221.6V528.2H221.8V533.9H222.0V526.2H222.2V531.0H222.4V537.1H222.6V529.7H222.8V536.7H223.0V542.2H223.2V529.2H223.4V528.4H223.6V529.4H223.8V526.7H224.0V534.0H224.2V529.9H224.4V524.2H224.6V539.8H224.7V530.7H224.9V531.8H225.1V535.4H225.3V530.3H225.5V533.2H225.7V535.1H225.9V535.2H226.1V535.5H226.3V526.3H226.5V530.5H226.7V534.6H226.9V528.8H227.1V537.4H227.3V528.1H227.5V530.5H227.7V533.7H227.9V536.4H228.1V534.3H228.3V538.7H228.5V536.2H228.7V529.8H228.9V536.3H229.1V538.4H229.3V532.2H229.5V536.2H229.6V529.8H229.8V534.4H230.0V536.7H230.2V533.6H230.4V537.2H230.6V538.2H230.8V532.2H231.0V537.2H231.2V533.7H231.4V530.5H231.6V533.3H231.8V534.0H232.0V538.6H232.2V532.5H232.4V529.7H232.6V535.5H232.8V539.7H233.0V537.0H233.2V535.1H233.4V538.3H233.6V538.2H233.8V541.0H234.0V533.7H234.2V536.3H234.4V537.5H234.5V535.8H234.7V537.1H234.9V534.6H235.1V534.4H235.3V532.4H235.5V542.5H235.7V536.0H235.9V530.6H236.1V534.6H236.3V534.8H236.5V530.5H236.7V535.3H236.9V531.9H237.1V537.1H237.3V535.8H237.5V533.7H237.7V532.7H237.9V532.7H238.1V541.4H238.3V534.0H238.5V534.9H238.7V536.1H238.9V533.5H239.1V534.9H239.3V541.0H239.4V533.4H239.6V536.0H239.8V534.3H240.0V542.5H240.2V536.1H240.4V539.4H240.6V536.7H240.8V535.2H241.0V539.4H241.2V535.1H241.4V538.2H241.6V536.1H241.8V540.1H242.0V533.9H242.2V538.4H242.4V537.4H242.6V533.9H242.8V535.1H243.0V532.2H243.2V536.1H243.4V538.1H243.6V536.2H243.8V536.8H244.0V538.6H244.2V536.9H244.3V537.1H244.5V538.8H244.7V538.2H244.9V537.9H245.1V531.5H245.3V536.2H245.5V538.1H245.7V536.1H245.9V537.0H246.1V535.5H246.3V534.1H246.5V534.2H246.7V534.3H246.9V539.1H247.1V534.7H247.3V538.7H247.5V533.1H247.7V536.8H247.9V539.2H248.1V542.5H248.3V535.0H248.5V536.7H248.7V539.2H248.9V542.5H249.1V533.8H249.2V539.7H249.4V538.1H249.6V534.8H249.8V538.2H250.0V530.9H250.2V534.5H250.4V537.1H250.6V537.6H250.8V537.5H251.0V537.0H251.2V536.0H251.4V536.4H251.6V533.6H251.8V533.0H252.0V536.8H252.2V531.6H252.4V531.5H252.6V533.2H252.8V536.3H253.0V538.1H253.2V541.0H253.4V539.5H253.6V536.0H253.8V534.4H254.0V537.9H254.1V535.0H254.3V536.2H254.5V540.4H254.7V540.6H254.9V537.4H255.1V542.3H255.3V534.1H255.5V530.6H255.7V542.5H255.9V535.8H256.1V540.8H256.3V540.4H256.5V541.4H256.7V536.2H256.9V538.7H257.1V536.3H257.3V534.4H257.5V538.1H257.7V538.5H257.9V537.7H258.1V538.2H258.3V539.7H258.5V535.6H258.7V537.7H258.9V541.4H259.0V539.2H259.2V537.6H259.4V536.0H259.6V542.5H259.8V537.2H260.0V533.0H260.2V534.7H260.4V542.4H260.6V539.9H260.8V537.2H261.0V534.7H261.2V542.0H261.4V535.6H261.6V534.7H261.8V536.3H262.0V536.7H262.2V536.2H262.4V539.6H262.6V537.1H262.8V534.9H263.0V532.3H263.2V537.1H263.4V537.2H263.6V535.6H263.8V540.5H263.9V539.3H264.1V535.2H264.3V538.2H264.5V531.1H264.7V534.1H264.9V538.9H265.1V541.0H265.3V539.8H265.5V538.3H265.7V538.7H265.9V541.2H266.1V542.5H266.3V541.3H266.5V540.6H266.7V532.5H266.9V539.9H267.1V534.3H267.3V541.1H267.5V542.5H267.7V542.2H267.9V536.9H268.1V541.4H268.3V541.2H268.5V536.9H268.7V538.8H268.8V541.2H269.0V532.5H269.2V537.0H269.4V541.5H269.6V537.5H269.8V536.4H270.0V542.5H270.2V534.6H270.4V537.4H270.6V541.4H270.8V540.7H271.0V537.9H271.2V539.6H271.4V534.9H271.6V538.3H271.8V537.8H272.0V542.5H272.2V535.9H272.4V536.4H272.6V532.9H272.8V538.4H273.0V534.6H273.2V540.3H273.4V536.1H273.6V538.7H273.7V542.5H273.9V542.4H274.1V541.2H274.3V533.3H274.5V536.8H274.7V534.1H274.9V540.6H275.1V540.5H275.3V539.4H275.5V540.0H275.7V539.8H275.9V542.5H276.1V540.6H276.3V535.6H276.5V537.9H276.7V534.9H276.9V539.1H277.1V542.2H277.3V536.9H277.5V537.8H277.7V539.0H277.9V541.1H278.1V542.0H278.3V537.9H278.5V534.6H278.6V540.0H278.8V535.6H279.0V536.7H279.2V539.1H279.4V541.0H279.6V534.9H279.8V537.0H280.0V542.5H280.2V537.2H280.4V539.1H280.6V542.5H280.8V540.2H281.0V537.9H281.2V537.5H281.4V539.7H281.6V539.2H281.8V535.8H282.0V535.1H282.2V534.6H282.4V540.9H282.6V538.2H282.8V539.7H283.0V541.7H283.2V542.1H283.4V536.0H283.5V542.5H283.7V540.6H283.9V542.5H284.1V538.8H284.3V535.8H284.5V537.4H284.7V539.9H284.9V535.8H285.1V536.0H285.3V537.3H285.5V537.7H285.7V538.3H285.9V540.1H286.1V537.8H286.3V539.8H286.5V535.9H286.7V537.0H286.9V541.3H287.1V542.5H287.3V536.8H287.5V538.5H287.7V539.8H287.9V542.5H288.1V537.3H288.3V537.2H288.4V539.0H288.6V540.5H288.8V536.7H289.0V541.4H289.2V534.0H289.4V541.5H289.6V537.8H289.8V540.3H290.0V542.5H290.2V539.0H290.4V536.3H290.6V539.1H290.8V537.2H291.0V540.4H291.2V539.3H291.4V542.5H291.6V540.9H291.8V539.1H292.0V534.7H292.2V541.6H292.4V537.7H292.6V539.3H292.8V537.3H293.0V540.7H293.2V536.5H293.3V542.5H293.5V538.1H293.7V535.3H293.9V537.7H294.1V535.1H294.3V537.4H294.5V539.2H294.7V542.5H294.9V541.3H295.1V539.8H295.3V538.2H295.5V541.2H295.7V540.3H295.9V540.5H296.1V537.1H296.3V541.5H296.5V540.6H296.7V540.1H296.9V536.6H297.1V540.5H297.3V539.7H297.5V541.3H297.7V535.8H297.9V538.6H298.1V541.5H298.2V538.3H298.4V538.9H298.6V542.5H298.8V535.7H299.0V536.5H299.2V538.0H299.4V536.6H299.6V538.4H299.8V540.4H300.0V540.4H300.2V538.6H300.4V537.8H300.6V539.6H300.8V541.2H301.0V540.4H301.2V541.0H301.4V535.9H301.6V539.7H301.8V537.5H302.0V538.0H302.2V536.8H302.4V539.0H302.6V539.6H302.8V541.1H303.0V540.3H303.1V535.8H303.3V542.5H303.5V541.0H303.7V538.9H303.9V539.3H304.1V541.3H304.3V539.9H304.5V538.2H304.7V535.5H304.9V539.9H305.1V539.2H305.3V539.3H305.5V539.3H305.7V539.0H305.9V542.4H306.1V540.0H306.3V540.6H306.5V539.5H306.7V540.7H306.9V537.6H307.1V538.1H307.3V537.6H307.5V536.2H307.7V538.7H307.9V538.5H308.0V539.9H308.2V534.8H308.4V539.3H308.6V542.5H308.8V530.0H309.0V541.0H309.2V538.6H309.4V536.3H309.6V539.5H309.8V539.0H310.0V539.1H310.2V538.3H310.4V538.7H310.6V537.9H310.8V540.3H311.0V536.9H311.2V542.1H311.4V535.4H311.6V541.3H311.8V539.1H312.0V540.2H312.2V540.0H312.4V536.1H312.6V538.7H312.8V538.4H312.9V541.2H313.1V538.4H313.3V536.6H313.5V538.1H313.7V536.3H313.9V538.5H314.1V538.6H314.3V539.2H314.5V540.4H314.7V538.4H314.9V538.4H315.1V537.7H315.3V540.3H315.5V542.5H315.7V534.9H315.9V542.5H316.1V540.9H316.3V539.0H316.5V542.5H316.7V538.6H316.9V539.8H317.1V540.8H317.3V536.6H317.5V534.8H317.7V538.2H317.8V542.5H318.0V538.8H318.2V537.1H318.4V539.2H318.6V540.5H318.8V541.5H319.0V538.7H319.2V539.8H319.4V539.9H319.6V539.8H319.8V542.5H320.0V541.7H320.2V538.1H320.4V540.4H320.6V536.2H320.8V539.7H321.0V537.1H321.2V541.5H321.4V531.8H321.6V537.0H321.8V538.6H322.0V539.6H322.2V539.7H322.4V540.2H322.6V540.8H322.7V539.6H322.9V536.8H323.1V536.5H323.3V539.5H323.5V537.4H323.7V537.8H323.9V541.2H324.1V539.6H324.3V539.3H324.5V538.2H324.7V538.2H324.9V542.5H325.1V539.3H325.3V539.6H325.5V541.5H325.7V542.3H325.9V540.7H326.1V541.9H326.3V536.6H326.5V538.7H326.7V538.8H326.9V539.9H327.1V542.5H327.3V542.5H327.5V541.5H327.6V541.8H327.8V541.1H328.0V538.4H328.2V538.3H328.4V541.6H328.6V540.6H328.8V542.5H329.0V532.9H329.2V541.6H329.4V538.5H329.6V539.9H329.8V539.5H330.0V540.4H330.2V537.7H330.4V537.0H330.6V542.3H330.8V541.1H331.0V542.5H331.2V539.6H331.4V536.4H331.6V538.0H331.8V538.2H332.0V541.0H332.2V539.7H332.4V536.8H332.5V538.5H332.7V536.5H332.9V542.5H333.1V541.7H333.3V541.1H333.5V540.1H333.7V541.0H333.9V541.6H334.1V540.8H334.3V538.8H334.5V537.3H334.7V538.4H334.9V540.6H335.1V542.3H335.3V538.7H335.5V539.1H335.7V539.9H335.9V541.0H336.1V537.6H336.3V540.2H336.5V537.6H336.7V539.3H336.9V538.9H337.1V539.5H337.3V539.1H337.4V541.1H337.6V538.5H337.8V542.0H338.0V540.2H338.2V542.5H338.4V540.5H338.6V542.5H338.8V542.5H339.0V542.5H339.2V542.5H339.4V542.5H339.6V542.5H339.8V542.5H340.0V542.5H340.2V542.5H340.4V542.5H340.6V542.5H340.8V542.5H341.0V542.5H341.2V542.5H341.4V542.5H341.6V542.5H341.8V542.5H342.0V542.5H342.2V542.5H342.3V542.5H342.5V542.5H342.7V542.5H342.9V542.5H343.1V542.5H343.3V542.5H343.5V542.5H343.7V542.5H343.9V542.5H344.1V542.5H344.3V542.5H344.5V542.5H344.7V542.5H344.9V542.5H345.1V542.5H345.3V542.5H345.5V542.5H345.7V542.5H345.9V542.5H346.1V542.5H346.3V542.5H346.5V542.5H346.7V542.5H346.9V542.5H347.1V542.5H347.2V542.5H347.4V542.5H347.6V542.5H347.8V542.5H348.0V542.5H348.2V542.5H348.4V542.5H348.6V542.5H348.8V542.5H349.0V542.5H349.2V542.5H349.4V542.5H349.6V542.5H349.8V542.5H350.0V542.5H350.2V542.5H350.4V542.5H350.6V542.5H350.8V542.5H351.0V542.5H351.2V542.5H351.4V542.5H351.6V542.5H351.8V542.5H352.0V542.5H352.1V542.5H352.3V542.5H352.5V542.5H352.7V542.5H352.9V542.5H353.1V542.5H353.3V542.5H353.5V542.5H353.7V542.5H353.9V542.5H354.1V542.5H354.3V542.5H354.5V542.5H354.7V542.5H354.9V542.5H355.1V542.5H355.3V542.5H355.5V542.5H355.7V542.5H355.9V542.5H356.1V542.5H356.3V542.5H356.5V542.5H356.7V542.5H356.9V542.5H357.0V542.5H357.2V542.5H357.4V542.5H357.6V542.5H357.8V542.5H358.0V542.5H358.2V542.5H358.4V542.5H358.6V542.5H358.8V542.5H359.0V542.5H359.2V542.5H359.4V542.5H359.6V542.5H359.8V542.5H360.0V542.5H360.2V542.5H360.4V542.5H360.6V542.5H360.8V542.5H361.0V542.5H361.2V542.5H361.4V542.5H361.6V542.5H361.8V542.5H361.9V542.5H362.1V542.5H362.3V542.5H362.5V542.5H362.7V542.5H362.9V542.5H363.1V542.5H363.3V542.5H363.5V542.5H363.7V542.5H363.9V542.5H364.1V542.5H364.3V542.5H364.5V542.5H364.7V542.5H364.9V542.5H365.1V542.5H365.3V542.5H365.5V542.5H365.7V542.5H365.9V542.5H366.1V542.5H366.3V542.5H366.5V542.5H366.7V542.5H366.8V542.5H367.0V542.5H367.2V542.5H367.4V542.5H367.6V542.5H367.8V542.5H368.0V542.5H368.2V542.5H368.4V542.5H368.6V542.5H368.8V542.5H369.0V542.5H369.2V542.5H369.4V542.5H369.6V542.5H369.8V542.5H370.0V542.5H370.2V542.5H370.4V542.5H370.6V542.5H370.8V542.5H371.0V542.5H371.2V542.5H371.4V542.5H371.6V542.5H371.7V542.5H371.9V542.5H372.1V542.5H372.3V542.5H372.5V542.5H372.7V542.5H372.9V542.5H373.1V542.5H373.3V542.5H373.5V542.5H373.7V542.5H373.9V542.5H374.1V542.5H374.3V542.5H374.5V542.5H374.7V542.5H374.9V542.5H375.1V542.5H375.3V542.5H375.5V542.5H375.7V542.5H375.9V542.5H376.1V542.5H376.3V542.5H376.5V542.5H376.6V542.5H376.8V542.5H377.0V542.5H377.2V542.5H377.4V542.5H377.6V542.5H377.8V542.5H378.0V542.5H378.2V542.5H378.4V542.5H378.6V542.5H378.8V542.5H379.0V542.5H379.2V542.5H379.4V542.5H379.6V542.5H379.8V542.5H380.0V542.5H380.2V542.5H380.4V542.5H380.6V542.5H380.8V542.5H381.0V542.5H381.2V542.5H381.4V542.5H381.5V542.5H381.7V542.5H381.9V542.5H382.1V542.5H382.3V542.5H382.5V542.5H382.7V542.5H382.9V542.5H383.1V542.5H383.3V542.5H383.5V542.5H383.7V542.5H383.9V542.5H384.1V542.5H384.3V542.5H384.5V542.5H384.7V542.5H384.9V542.5H385.1V542.5H385.3V542.5H385.5V542.5H385.7V542.5H385.9V542.5H386.1V542.5H386.3V542.5H386.4V542.5H386.6V542.5H386.8V542.5H387.0V542.5H387.2V542.5H387.4V542.5H387.6V542.5H387.8V542.5H388.0V542.5H388.2V542.5H388.4V542.5H388.6V542.5H388.8V542.5H389.0V542.5H389.2V542.5H389.4V542.5H389.6V542.5H389.8V542.5H390.0V542.5H390.2V542.5H390.4V542.5H390.6V542.5H390.8V542.5H391.0V542.5H391.2V542.5H391.3V542.5H391.5V542.5H391.7V542.5H391.9V542.5H392.1V542.5H392.3V542.5H392.5V542.5H392.7V542.5H392.9V542.5H393.1V542.5H393.3V542.5H393.5V542.5H393.7V542.5H393.9V542.5H394.1V542.5H394.3V542.5H394.5V542.5H394.7V542.5H394.9V542.5H395.1V542.5H395.3V542.5H395.5V542.5H395.7V542.5H395.9V542.5H396.1V542.5H396.2V542.5H396.4V542.5H396.6V542.5H396.8V542.5H397.0V542.5H397.2V542.5H397.4V542.5H397.6V542.5H397.8V542.5H398.0V542.5H398.2V542.5H398.4V542.5H398.6V542.5H398.8V542.5H399.0V542.5H399.2V542.5H399.4V542.5H399.6V542.5H399.8V542.5H400.0V542.5H400.2V542.5H400.4V542.5H400.6V542.5H400.8V542.5H401.0V542.5H401.1V542.5H401.3V542.5H401.5V542.5H401.7V542.5H401.9V542.5H402.1V542.5H402.3V542.5H402.5V542.5H402.7V542.5H402.9V542.5H403.1V542.5H403.3V542.5H403.5V542.5H403.7V542.5H403.9V542.5H404.1V542.5H404.3V542.5H404.5V542.5H404.7V542.5H404.9V542.5H405.1V542.5H405.3V542.5H405.5V542.5H405.7V542.5H405.9V542.5H406.0V542.5H406.2V542.5H406.4V542.5H406.6V542.5H406.8V542.5H407.0V542.5H407.2V542.5H407.4V542.5H407.6V542.5H407.8V542.5H408.0V542.5H408.2V542.5H408.4V542.5H408.6V542.5H408.8V542.5H409.0V542.5H409.2V542.5H409.4V542.5H409.6V542.5H409.8V542.5H410.0V542.5H410.2V542.5H410.4V542.5H410.6V542.5H410.8V542.5H410.9V542.5H411.1V542.5H411.3V542.5H411.5V542.5H411.7V542.5H411.9V542.5H412.1V542.5H412.3V542.5H412.5V542.5H412.7V542.5H412.9V542.5H413.1V542.5H413.3V542.5H413.5V542.5H413.7V542.5H413.9V542.5H414.1V542.5H414.3V542.5H414.5V542.5H414.7V542.5H414.9V542.5H415.1V542.5H415.3V542.5H415.5V542.5H415.7V542.5H415.8V542.5H416.0V542.5H416.2V542.5H416.4V542.5H416.6V542.5H416.8V542.5H417.0V542.5H417.2V542.5H417.4V542.5H417.6V542.5H417.8V542.5H418.0V542.5H418.2V542.5H418.4V542.5H418.6V542.5H418.8V542.5H419.0V542.5H419.2V542.5H419.4V542.5H419.6V542.5H419.8V542.5H420.0V542.5H420.2V542.5H420.4V542.5H420.6V542.5H420.7V542.5H420.9V542.5H421.1V542.5H421.3V542.5H421.5V542.5H421.7V542.5H421.9V542.5H422.1V542.5H422.3V542.5H422.5V542.5H422.7V542.5H422.9V542.5H423.1V542.5H423.3V542.5H423.5V542.5H423.7V542.5H423.9V542.5H424.1V542.5H424.3V542.5H424.5V542.5H424.7V542.5H424.9V542.5H425.1V542.5H425.3V542.5H425.5V542.5H425.6V542.5H425.8V542.5H426.0V542.5H426.2V542.5H426.4V542.5H426.6V542.5H426.8V542.5H427.0V542.5H427.2V542.5H427.4V542.5H427.6V542.5H427.8V542.5H428.0V542.5H428.2V542.5H428.4V542.5H428.6V542.5H428.8V542.5H429.0V542.5H429.2V542.5H429.4V542.5H429.6V542.5H429.8V542.5H430.0V542.5H430.2V542.5H430.4V542.5H430.5V542.5H430.7V542.5H430.9V542.5H431.1V542.5H431.3V542.5H431.5V542.5H431.7V542.5H431.9V542.5H432.1V542.5H432.3V542.5H432.5V542.5H432.7V542.5H432.9V542.5H433.1V542.5H433.3V542.5H433.5V542.5H433.7V542.5H433.9V542.5H434.1V542.5H434.3V542.5H434.5V542.5H434.7V542.5H434.9V542.5H435.1V542.5H435.3V542.5H435.4V542.5H435.6V542.5H435.8V542.5H436.0V542.5H436.2V542.5H436.4V542.5H436.6V542.5H436.8V542.5H437.0V542.5H437.2V542.5H437.4V542.5H437.6V542.5H437.8V542.5H438.0V542.5H438.2V542.5H438.4V542.5H438.6V542.5H438.8V542.5H439.0V542.5H439.2V542.5H439.4V542.5H439.6V542.5H439.8V542.5H440.0V542.5H440.2V542.5H440.3V542.5H440.5V542.5H440.7V542.5H440.9V542.5H441.1V542.5H441.3V542.5H441.5V542.5H441.7V542.5H441.9V542.5H442.1V542.5H442.3V542.5H442.5V542.5H442.7V542.5H442.9V542.5H443.1V542.5H443.3V542.5H443.5V542.5H443.7V542.5H443.9V542.5H444.1V542.5H444.3V542.5H444.5V542.5H444.7V542.5H444.9V542.5H445.1V542.5H445.2V542.5H445.4V542.5H445.6V542.5H445.8V542.5H446.0V542.5H446.2V542.5H446.4V542.5H446.6V542.5H446.8V542.5H447.0V542.5H447.2V542.5H447.4V542.5H447.6V542.5H447.8V542.5H448.0V542.5H448.2V542.5H448.4V542.5H448.6V542.5H448.8V542.5H449.0V542.5H449.2V542.5H449.4V542.5H449.6V542.5H449.8V542.5H450.0V542.5H450.1V542.5H450.3V542.5H450.5V542.5H450.7V542.5H450.9V542.5H451.1V542.5H451.3V542.5H451.5V542.5H451.7V542.5H451.9V542.5H452.1V542.5H452.3V542.5H452.5" fill="none" stroke="#000099" stroke-width="1"/>
<path d="M570.7 542.5H570.9V542.5H571.1V542.5H571.3V542.5H571.5V542.5H571.7V542.5H571.9V542.5H572.1V542.5H572.3V542.5H572.5V542.5H572.7V542.5H572.9V542.5H573.1V542.5H573.2V542.5H573.4V542.5H573.6V542.5H573.8V542.5H574.0V542.5H574.2V542.5H574.4V542.5H574.6V542.5H574.8V542.5H575.0V542.5H575.2V542.5H575.4V542.5H575.6V542.5H575.8V542.5H576.0V542.5H576.2V542.5H576.4V542.5H576.6V542.5H576.8V542.5H577.0V542.5H577.2V542.5H577.4V542.5H577.6V542.5H577.8V542.5H578.0V542.5H578.1V542.5H578.3V542.5H578.5V542.5H578.7V542.5H578.9V542.5H579.1V542.5H579.3V542.5H579.5V542.5H579.7V542.5H579.9V542.5H580.1V542.5H580.3V542.5H580.5V542.5H580.7V542.5H580.9V542.5H581.1V542.5H581.3V542.5H581.5V542.5H581.7V542.5H581.9V542.5H582.1V542.5H582.3V542.5H582.5V542.5H582.7V542.5H582.9V542.5H583.0V542.5H583.2V542.5H583.4V542.5H583.6V542.5H583.8V542.5H584.0V542.5H584.2V542.5H584.4V542.5H584.6V542.5H584.8V542.5H585.0V542.5H585.2V542.5H585.4V542.5H585.6V542.5H585.8V542.5H586.0V542.5H586.2V542.5H586.4V542.5H586.6V542.5H586.8V542.5H587.0V542.5H587.2V542.5H587.4V542.5H587.6V542.5H587.8V542.5H587.9V542.5H588.1V542.5H588.3V542.5H588.5V542.0H588.7V541.8H588.9V542.5H589.1V542.2H589.3V542.5H589.5V540.8H589.7V542.4H589.9V542.0H590.1V541.7H590.3V542.5H590.5V542.2H590.7V541.4H590.9V541.7H591.1V542.5H591.3V541.7H591.5V541.7H591.7V542.5H591.9V542.1H592.1V541.7H592.3V539.1H592.5V539.1H592.7V540.9H592.8V540.6H593.0V540.7H593.2V541.8H593.4V541.2H593.6V540.1H593.8V541.8H594.0V541.6H594.2V541.1H594.4V542.3H594.6V542.2H594.8V540.7H595.0V541.8H595.2V542.2H595.4V542.5H595.6V540.8H595.8V540.8H596.0V542.5H596.2V541.0H596.4V541.6H596.6V541.1H596.8V540.1H597.0V539.8H597.2V541.8H597.4V538.6H597.6V542.0H597.7V542.5H597.9V541.7H598.1V542.0H598.3V541.6H598.5V540.5H598.7V542.3H598.9V541.4H599.1V542.5H599.3V537.9H599.5V540.6H599.7V542.5H599.9V539.9H600.1V539.8H600.3V541.1H600.5V538.5H600.7V540.8H600.9V542.5H601.1V539.8H601.3V538.1H601.5V539.6H601.7V534.5H601.9V540.2H602.1V531.3H602.3V537.4H602.5V529.9H602.6V529.2H602.8V530.2H603.0V527.6H603.2V521.5H603.4V514.7H603.6V517.7H603.8V507.5H604.0V506.2H604.2V510.6H604.4V501.8H604.6V480.6H604.8V482.1H605.0V493.1H605.2V493.6H605.4V473.0H605.6V474.1H605.8V461.1H606.0V456.3H606.2V488.2H606.4V472.6H606.6V478.0H606.8V470.8H607.0V476.2H607.2V480.8H607.4V471.6H607.5V483.3H607.7V486.9H607.9V472.8H608.1V476.0H608.3V478.0H608.5V495.9H608.7V478.0H608.9V483.6H609.1V496.6H609.3V482.9H609.5V484.1H609.7V489.6H609.9V486.3H610.1V466.3H610.3V474.1H610.5V490.0H610.7V480.5H610.9V461.6H611.1V486.3H611.3V479.1H611.5V481.0H611.7V505.4H611.9V471.2H612.1V481.1H612.3V477.0H612.4V490.2H612.6V484.3H612.8V489.0H613.0V487.2H613.2V485.2H613.4V492.5H613.6V473.6H613.8V480.6H614.0V471.7H614.2V496.7H614.4V488.4H614.6V482.6H614.8V475.5H615.0V483.4H615.2V486.5H615.4V485.4H615.6V476.5H615.8V487.2H616.0V471.7H616.2V485.5H616.4V496.6H616.6V486.8H616.8V476.4H617.0V477.9H617.2V476.6H617.3V484.8H617.5V484.0H617.7V471.9H617.9V463.8H618.1V491.5H618.3V482.3H618.5V484.5H618.7V483.2H618.9V474.7H619.1V486.3H619.3V495.2H619.5V471.0H619.7V477.2H619.9V456.3H620.1V468.8H620.3V476.7H620.5V505.0H620.7V484.6H620.9V472.7H621.1V491.1H621.3V497.6H621.5V479.7H621.7V474.6H621.9V487.4H622.1V485.2H622.2V479.5H622.4V474.8H622.6V479.2H622.8V482.9H623.0V483.5H623.2V467.3H623.4V482.6H623.6V482.2H623.8V484.1H624.0V481.8H624.2V503.7H624.4V495.8H624.6V484.4H624.8V486.9H625.0V475.4H625.2V483.7H625.4V478.4H625.6V475.5H625.8V481.4H626.0V488.3H626.2V501.5H626.4V477.4H626.6V487.0H626.8V490.3H627.0V482.5H627.1V492.8H627.3V490.0H627.5V488.8H627.7V500.6H627.9V488.7H628.1V485.9H628.3V477.6H628.5V482.8H628.7V469.8H628.9V474.4H629.1V486.5H629.3V480.7H629.5V475.4H629.7V486.4H629.9V473.8H630.1V462.0H630.3V488.5H630.5V484.9H630.7V482.2H630.9V478.0H631.1V466.7H631.3V490.6H631.5V473.6H631.7V482.9H631.9V483.8H632.0V475.5H632.2V489.9H632.4V495.2H632.6V493.0H632.8V491.2H633.0V476.3H633.2V463.6H633.4V484.2H633.6V484.5H633.8V487.6H634.0V488.7H634.2V493.8H634.4V466.1H634.6V488.1H634.8V461.2H635.0V473.1H635.2V474.0H635.4V482.8H635.6V477.4H635.8V497.2H636.0V479.2H636.2V482.7H636.4V489.3H636.6V483.7H636.8V483.3H636.9V482.5H637.1V480.9H637.3V498.4H637.5V480.0H637.7V502.6H637.9V483.0H638.1V489.2H638.3V480.0H638.5V483.2H638.7V472.9H638.9V483.2H639.1V482.2H639.3V490.8H639.5V488.3H639.7V500.3H639.9V483.9H640.1V494.3H640.3V479.5H640.5V481.2H640.7V469.9H640.9V478.9H641.1V479.2H641.3V469.7H641.5V481.4H641.7V472.0H641.8V472.7H642.0V469.1H642.2V479.8H642.4V477.0H642.6V486.5H642.8V472.8H643.0V493.9H643.2V488.8H643.4V483.2H643.6V482.8H643.8V480.1H644.0V480.0H644.2V481.8H644.4V480.7H644.6V475.2H644.8V479.1H645.0V487.0H645.2V475.0H645.4V466.6H645.6V481.0H645.8V476.7H646.0V482.9H646.2V478.6H646.4V467.6H646.6V494.1H646.7V483.1H646.9V492.6H647.1V491.8H647.3V486.3H647.5V480.7H647.7V480.2H647.9V484.9H648.1V486.3H648.3V478.2H648.5V478.8H648.7V490.4H648.9V494.6H649.1V488.8H649.3V470.5H649.5V473.9H649.7V485.2H649.9V470.8H650.1V474.2H650.3V494.5H650.5V479.9H650.7V477.4H650.9V493.6H651.1V468.4H651.3V480.8H651.5V471.6H651.6V473.7H651.8V476.8H652.0V482.1H652.2V489.4H652.4V494.2H652.6V465.3H652.8V499.0H653.0V487.2H653.2V496.4H653.4V486.3H653.6V468.6H653.8V485.7H654.0V488.8H654.2V480.7H654.4V485.5H654.6V492.7H654.8V487.1H655.0V508.9H655.2V484.1H655.4V470.2H655.6V490.7H655.8V480.4H656.0V490.3H656.2V484.5H656.4V478.2H656.5V480.7H656.7V493.7H656.9V483.0H657.1V472.0H657.3V481.7H657.5V487.5H657.7V476.9H657.9V481.5H658.1V480.1H658.3V483.0H658.5V467.4H658.7V483.2H658.9V464.6H659.1V481.9H659.3V470.6H659.5V435.7H659.7V441.2H659.9V426.6H660.1V427.2H660.3V392.7H660.5V403.7H660.7V393.8H660.9V383.3H661.1V385.3H661.3V384.5H661.4V410.0H661.6V375.0H661.8V364.0H662.0V364.7H662.2V413.0H662.4V377.6H662.6V372.2H662.8V367.5H663.0V367.0H663.2V391.0H663.4V389.8H663.6V367.3H663.8V344.1H664.0V380.9H664.2V360.3H664.4V421.8H664.6V403.7H664.8V424.3H665.0V441.4H665.2V433.0H665.4V426.8H665.6V431.1H665.8V436.9H666.0V475.0H666.2V447.4H666.3V456.0H666.5V464.6H666.7V488.4H666.9V451.3H667.1V477.3H667.3V485.7H667.5V473.6H667.7V469.6H667.9V454.7H668.1V481.5H668.3V492.2H668.5V480.4H668.7V489.9H668.9V478.2H669.1V481.8H669.3V486.2H669.5V487.9H669.7V476.7H669.9V479.3H670.1V479.5H670.3V497.2H670.5V479.6H670.7V483.7H670.9V469.3H671.1V489.2H671.2V485.2H671.4V495.5H671.6V481.6H671.8V482.0H672.0V464.7H672.2V497.8H672.4V486.6H672.6V479.5H672.8V481.3H673.0V503.4H673.2V474.6H673.4V485.7H673.6V490.3H673.8V486.7H674.0V482.7H674.2V484.3H674.4V493.9H674.6V488.6H674.8V485.5H675.0V475.5H675.2V496.5H675.4V482.0H675.6V481.8H675.8V476.4H676.0V486.8H676.1V488.1H676.3V499.2H676.5V495.6H676.7V488.1H676.9V480.3H677.1V484.2H677.3V472.5H677.5V487.0H677.7V470.7H677.9V486.6H678.1V482.2H678.3V490.0H678.5V493.6H678.7V482.5H678.9V480.0H679.1V490.2H679.3V488.8H679.5V475.1H679.7V484.5H679.9V504.5H680.1V493.2H680.3V488.8H680.5V477.8H680.7V479.2H680.9V486.9H681.0V496.5H681.2V487.6H681.4V485.3H681.6V486.0H681.8V492.8H682.0V495.2H682.2V481.4H682.4V496.9H682.6V478.5H682.8V493.1H683.0V472.4H683.2V494.9H683.4V479.4H683.6V482.4H683.8V477.0H684.0V463.7H684.2V506.7H684.4V494.6H684.6V478.4H684.8V480.1H685.0V481.1H685.2V478.8H685.4V497.2H685.6V500.5H685.8V478.6H685.9V493.3H686.1V473.8H686.3V478.6H686.5V502.7H686.7V489.1H686.9V491.5H687.1V495.7H687.3V495.9H687.5V477.2H687.7V496.1H687.9V482.1H688.1V476.4H688.3V484.1H688.5V474.1H688.7V477.3H688.9V469.3H689.1V478.0H689.3V487.2H689.5V490.7H689.7V476.2H689.9V475.7H690.1V494.8H690.3V481.7H690.5V482.3H690.7V480.9H690.8V460.7H691.0V480.4H691.2V475.2H691.4V485.2H691.6V490.9H691.8V488.2H692.0V493.6H692.2V482.9H692.4V486.0H692.6V474.1H692.8V482.6H693.0V488.0H693.2V470.6H693.4V474.6H693.6V485.0H693.8V477.8H694.0V489.3H694.2V459.7H694.4V479.3H694.6V466.6H694.8V467.7H695.0V472.3H695.2V481.8H695.4V471.3H695.6V466.7H695.7V491.4H695.9V482.0H696.1V483.5H696.3V494.3H696.5V479.2H696.7V460.2H696.9V475.2H697.1V472.9H697.3V474.6H697.5V500.5H697.7V472.2H697.9V465.6H698.1V472.1H698.3V475.1H698.5V500.6H698.7V463.1H698.9V481.5H699.1V472.4H699.3V489.0H699.5V481.3H699.7V470.3H699.9V484.5H700.1V449.2H700.3V479.0H700.5V474.2H700.6V491.0H700.8V466.0H701.0V486.9H701.2V474.0H701.4V487.9H701.6V479.4H701.8V494.0H702.0V478.6H702.2V473.5H702.4V480.0H702.6V481.1H702.8V482.3H703.0V478.0H703.2V488.0H703.4V485.7H703.6V479.4H703.8V471.0H704.0V470.3H704.2V465.6H704.4V475.5H704.6V481.8H704.8V469.9H705.0V481.6H705.2V466.0H705.4V481.7H705.5V469.7H705.7V484.7H705.9V487.1H706.1V476.0H706.3V475.0H706.5V490.1H706.7V463.3H706.9V477.7H707.1V475.2H707.3V480.0H707.5V463.7H707.7V490.1H707.9V488.2H708.1V494.2H708.3V464.1H708.5V467.3H708.7V472.3H708.9V487.7H709.1V472.8H709.3V471.2H709.5V470.9H709.7V463.2H709.9V484.9H710.1V476.2H710.3V480.2H710.4V490.1H710.6V489.2H710.8V474.3H711.0V472.4H711.2V473.3H711.4V489.6H711.6V487.6H711.8V484.7H712.0V488.2H712.2V490.5H712.4V492.3H712.6V480.8H712.8V478.8H713.0V475.0H713.2V483.4H713.4V483.7H713.6V486.3H713.8V482.1H714.0V490.8H714.2V475.3H714.4V465.0H714.6V477.6H714.8V483.7H715.0V477.1H715.2V491.2H715.3V474.5H715.5V468.9H715.7V479.9H715.9V481.1H716.1V482.8H716.3V503.3H716.5V500.5H716.7V461.6H716.9V481.6H717.1V467.7H717.3V479.3H717.5V486.5H717.7V481.9H717.9V485.5H718.1V489.0H718.3V489.1H718.5V504.6H718.7V498.8H718.9V473.5H719.1V489.9H719.3V488.5H719.5V477.3H719.7V487.2H719.9V476.7H720.1V497.9H720.2V481.6H720.4V497.1H720.6V483.9H720.8V485.1H721.0V483.5H721.2V488.6H721.4V476.2H721.6V475.2H721.8V494.7H722.0V492.1H722.2V495.2H722.4V488.5H722.6V476.4H722.8V478.1H723.0V494.0H723.2V488.7H723.4V503.4H723.6V491.0H723.8V487.0H724.0V502.2H724.2V484.2H724.4V480.2H724.6V494.0H724.8V485.2H725.0V492.7H725.1V484.7H725.3V495.6H725.5V474.7H725.7V490.4H725.9V477.9H726.1V482.9H726.3V486.0H726.5V490.7H726.7V488.7H726.9V485.3H727.1V482.3H727.3V487.5H727.5V477.8H727.7V491.0H727.9V491.8H728.1V489.5H728.3V500.5H728.5V487.2H728.7V484.6H728.9V481.7H729.1V486.4H729.3V482.4H729.5V497.3H729.7V491.9H729.9V478.9H730.0V501.9H730.2V492.5H730.4V486.6H730.6V484.5H730.8V503.9H731.0V475.8H731.2V490.1H731.4V488.8H731.6V490.9H731.8V492.0H732.0V483.3H732.2V486.6H732.4V512.1H732.6V490.5H732.8V476.7H733.0V500.0H733.2V488.3H733.4V485.7H733.6V497.2H733.8V496.7H734.0V490.5H734.2V495.2H734.4V496.3H734.6V496.7H734.8V494.4H734.9V503.0H735.1V492.7H735.3V494.2H735.5V494.5H735.7V499.9H735.9V493.1H736.1V496.3H736.3V498.5H736.5V496.7H736.7V487.6H736.9V498.2H737.1V495.4H737.3V483.9H737.5V486.7H737.7V487.9H737.9V498.3H738.1V477.6H738.3V487.6H738.5V509.1H738.7V484.3H738.9V507.0H739.1V494.6H739.3V480.9H739.5V483.5H739.7V503.1H739.8V506.4H740.0V500.8H740.2V504.5H740.4V495.4H740.6V487.2H740.8V508.0H741.0V505.7H741.2V494.7H741.4V490.8H741.6V497.0H741.8V496.6H742.0V482.0H742.2V491.8H742.4V511.1H742.6V502.3H742.8V490.7H743.0V494.0H743.2V500.2H743.4V494.4H743.6V502.2H743.8V492.9H744.0V486.2H744.2V484.7H744.4V490.9H744.6V500.1H744.7V504.0H744.9V498.4H745.1V507.5H745.3V499.2H745.5V497.9H745.7V487.7H745.9V486.6H746.1V496.6H746.3V504.7H746.5V504.0H746.7V503.6H746.9V492.6H747.1V500.6H747.3V507.8H747.5V511.6H747.7V487.4H747.9V500.0H748.1V491.6H748.3V493.3H748.5V500.8H748.7V502.0H748.9V505.5H749.1V504.5H749.3V513.1H749.5V508.2H749.6V498.8H749.8V497.0H750.0V495.5H750.2V495.6H750.4V478.1H750.6V503.8H750.8V500.8H751.0V492.3H751.2V502.7H751.4V504.9H751.6V498.1H751.8V499.3H752.0V499.9H752.2V503.0H752.4V505.1H752.6V506.6H752.8V484.7H753.0V496.8H753.2V501.9H753.4V504.3H753.6V495.8H753.8V493.9H754.0V507.3H754.2V501.8H754.4V506.2H754.5V511.9H754.7V501.3H754.9V511.3H755.1V502.7H755.3V511.8H755.5V503.1H755.7V502.6H755.9V504.3H756.1V508.2H756.3V510.4H756.5V507.4H756.7V497.7H756.9V509.6H757.1V500.1H757.3V500.4H757.5V510.0H757.7V504.0H757.9V511.8H758.1V496.8H758.3V516.6H758.5V517.4H758.7V502.8H758.9V510.6H759.1V510.5H759.3V501.9H759.4V493.2H759.6V514.7H759.8V506.0H760.0V504.9H760.2V502.2H760.4V498.8H760.6V510.2H760.8V503.2H761.0V493.2H761.2V504.2H761.4V507.7H761.6V501.3H761.8V496.9H762.0V508.6H762.2V508.1H762.4V499.9H762.6V509.1H762.8V508.4H763.0V502.8H763.2V517.4H763.4V499.1H763.6V505.3H763.8V500.6H764.0V494.3H764.2V503.7H764.3V508.4H764.5V506.7H764.7V510.6H764.9V506.0H765.1V513.6H765.3V509.2H765.5V515.7H765.7V508.9H765.9V503.6H766.1V502.2H766.3V499.5H766.5V508.8H766.7V497.2H766.9V507.7H767.1V506.6H767.3V496.0H767.5V507.8H767.7V518.0H767.9V509.8H768.1V519.8H768.3V509.9H768.5V515.3H768.7V510.8H768.9V507.9H769.1V503.5H769.2V521.1H769.4V505.7H769.6V509.5H769.8V520.5H770.0V500.7H770.2V511.5H770.4V503.0H770.6V504.0H770.8V515.1H771.0V518.8H771.2V495.3H771.4V493.6H771.6V508.7H771.8V507.2H772.0V512.3H772.2V514.1H772.4V518.8H772.6V520.8H772.8V501.1H773.0V509.4H773.2V518.4H773.4V505.6H773.6V521.6H773.8V511.0H774.0V505.0H774.1V512.6H774.3V509.2H774.5V504.1H774.7V525.2H774.9V516.3H775.1V498.8H775.3V510.8H775.5V506.8H775.7V507.4H775.9V507.9H776.1V510.4H776.3V505.0H776.5V507.2H776.7V507.4H776.9V510.0H777.1V500.7H777.3V514.0H777.5V522.2H777.7V498.0H777.9V511.8H778.1V504.9H778.3V514.1H778.5V512.7H778.7V517.7H778.9V507.4H779.0V512.3H779.2V517.9H779.4V512.8H779.6V512.7H779.8V520.5H780.0V504.0H780.2V497.8H780.4V516.8H780.6V506.0H780.8V514.8H781.0V510.7H781.2V521.2H781.4V506.0H781.6V508.8H781.8V509.2H782.0V505.5H782.2V506.1H782.4V526.9H782.6V518.8H782.8V509.5H783.0V513.6H783.2V509.3H783.4V507.5H783.6V518.6H783.8V514.8H783.9V519.7H784.1V517.6H784.3V502.8H784.5V516.7H784.7V508.1H784.9V507.8H785.1V513.8H785.3V521.3H785.5V514.9H785.7V523.9H785.9V512.8H786.1V516.4H786.3V521.0H786.5V510.4H786.7V512.6H786.9V509.8H787.1V509.3H787.3V513.6H787.5V510.1H787.7V504.9H787.9V513.5H788.1V515.2H788.3V514.0H788.5V524.2H788.7V498.2H788.8V510.7H789.0V524.4H789.2V513.1H789.4V510.4H789.6V528.9H789.8V510.6H790.0V517.7H790.2V514.9H790.4V509.1H790.6V504.7H790.8V535.0H791.0V512.4H791.2V513.9H791.4V506.1H791.6V519.6H791.8V504.9H792.0V503.6H792.2V525.9H792.4V519.7H792.6V515.2H792.8V516.4H793.0V523.3H793.2V503.7H793.4V510.6H793.6V500.4H793.7V519.9H793.9V513.1H794.1V508.6H794.3V515.1H794.5V523.2H794.7V514.5H794.9V516.9H795.1V516.5H795.3V522.5H795.5V509.2H795.7V518.5H795.9V514.9H796.1V521.6H796.3V504.8H796.5V511.8H796.7V509.5H796.9V519.4H797.1V516.6H797.3V514.7H797.5V511.9H797.7V512.0H797.9V511.6H798.1V522.7H798.3V523.0H798.5V515.0H798.6V515.3H798.8V528.9H799.0V517.4H799.2V516.9H799.4V526.4H799.6V501.7H799.8V517.0H800.0V528.5H800.2V521.9H800.4V516.1H800.6V522.5H800.8V518.8H801.0V519.8H801.2V526.5H801.4V513.0H801.6V517.9H801.8V516.6H802.0V511.7H802.2V516.8H802.4V519.8H802.6V528.7H802.8V521.1H803.0V523.7H803.2V529.7H803.4V524.0H803.5V507.6H803.7V518.7H803.9V524.3H804.1V512.6H804.3V516.6H804.5V523.1H804.7V512.9H804.9V524.0H805.1V529.8H805.3V529.5H805.5V518.2H805.7V525.5H805.9V514.5H806.1V528.2H806.3V519.6H806.5V524.8H806.7V515.0H806.9V524.7H807.1V522.8H807.3V523.7H807.5V513.1H807.7V520.7H807.9V513.0H808.1V519.9H808.3V527.4H808.4V528.9H808.6V519.1H808.8V517.8H809.0V524.5H809.2V525.7H809.4V518.3H809.6V519.3H809.8V512.3H810.0V521.9H810.2V508.3H810.4V524.9H810.6V522.9H810.8V518.0H811.0V517.9H811.2V522.3H811.4V513.0H811.6V518.2H811.8V520.4H812.0V525.4H812.2V518.8H812.4V515.5H812.6V521.7H812.8V529.3H813.0V528.0H813.2V515.5H813.3V511.5H813.5V509.4H813.7V518.3H813.9V521.5H814.1V521.0H814.3V525.0H814.5V524.8H814.7V516.7H814.9V522.5H815.1V526.6H815.3V519.2H815.5V516.0H815.7V522.4H815.9V529.9H816.1V517.5H816.3V524.6H816.5V531.1H816.7V513.1H816.9V523.0H817.1V506.0H817.3V522.1H817.5V517.4H817.7V521.7H817.9V525.0H818.1V527.5H818.2V521.9H818.4V528.1H818.6V528.1H818.8V522.3H819.0V522.9H819.2V527.1H819.4V524.9H819.6V527.0H819.8V521.9H820.0V527.6H820.2V523.9H820.4V523.7H820.6V513.3H820.8V518.9H821.0V524.3H821.2V530.8H821.4V515.9H821.6V516.6H821.8V522.0H822.0V517.6H822.2V528.7H822.4V523.0H822.6V512.8H822.8V525.0H823.0V528.3H823.1V519.0H823.3V525.9H823.5V516.6H823.7V530.7H823.9V523.4H824.1V513.4H824.3V523.5H824.5V518.9H824.7V532.8H824.9V530.0H825.1V519.1H825.3V528.1H825.5V521.9H825.7V523.2H825.9V525.6H826.1V530.6H826.3V526.8H826.5V521.0H826.7V527.7H826.9V524.5H827.1V515.2H827.3V521.0H827.5V526.9H827.7V522.2H827.9V519.2H828.0V525.0H828.2V529.2H828.4V525.6H828.6V524.0H828.8V531.2H829.0V528.4H829.2V512.7H829.4V524.4H829.6V516.8H829.8V515.3H830.0V530.4H830.2V522.0H830.4V523.0H830.6V528.6H830.8V522.5H831.0V523.1H831.2V523.7H831.4V522.1H831.6V529.7H831.8V520.1H832.0V532.1H832.2V529.2H832.4V526.6H832.6V527.3H832.8V523.3H832.9V521.9H833.1V531.5H833.3V518.5H833.5V529.9H833.7V530.7H833.9V530.7H834.1V526.1H834.3V531.9H834.5V522.5H834.7V530.5H834.9V524.5H835.1V525.7H835.3V529.3H835.5V533.3H835.7V530.2H835.9V524.1H836.1V520.7H836.3V526.2H836.5V523.0H836.7V521.2H836.9V532.4H837.1V525.4H837.3V522.2H837.5V529.3H837.7V525.2H837.8V528.5H838.0V527.0H838.2V524.9H838.4V533.9H838.6V527.3H838.8V521.4H839.0V528.3H839.2V532.4H839.4V534.5H839.6V530.0H839.8V529.5H840.0V532.1H840.2V518.9H840.4V528.7H840.6V531.8H840.8V530.2H841.0V526.4H841.2V530.8H841.4V528.6H841.6V528.3H841.8V523.5H842.0V521.0H842.2V528.5H842.4V534.1H842.6V529.5H842.7V526.0H842.9V526.0H843.1V527.9H843.3V520.2H843.5V527.1H843.7V527.3H843.9V527.7H844.1V526.2H844.3V524.5H844.5V525.9H844.7V531.2H844.9V523.4H845.1V525.6H845.3V526.8H845.5V530.2H845.7V522.2H845.9V533.6H846.1V526.4H846.3V532.1H846.5V528.1H846.7V526.6H846.9V535.6H847.1V519.9H847.3V525.8H847.5V526.5H847.6V538.7H847.8V523.6H848.0V527.6H848.2V529.9H848.4V530.7H848.6V521.4H848.8V538.3H849.0V532.6H849.2V531.5H849.4V518.0H849.6V528.9H849.8V531.8H850.0V531.0H850.2V529.7H850.4V522.6H850.6V529.4H850.8V534.3H851.0V526.8H851.2V529.7H851.4V528.5H851.6V533.8H851.8V535.2H852.0V528.5H852.2V531.3H852.4V527.4H852.5V528.1H852.7V526.5H852.9V530.8H853.1V526.3H853.3V530.8H853.5V538.4H853.7V533.7H853.9V530.8H854.1V530.0H854.3V525.4H854.5V525.8H854.7V526.3H854.9V536.6H855.1V541.1H855.3V532.4H855.5V522.2H855.7V525.7H855.9V531.3H856.1V532.1H856.3V525.4H856.5V522.4H856.7V522.8H856.9V530.7H857.1V524.3H857.3V532.3H857.4V531.1H857.6V533.6H857.8V527.2H858.0V526.6H858.2V527.9H858.4V521.1H858.6V531.8H858.8V532.2H859.0V532.0H859.2V531.9H859.4V532.4H859.6V532.2H859.8V526.0H860.0V528.8H860.2V528.4H860.4V530.3H860.6V531.4H860.8V526.2H861.0V527.2H861.2V536.2H861.4V527.4H861.6V528.9H861.8V538.0H862.0V530.8H862.2V528.5H862.3V530.0H862.5V529.5H862.7V531.3H862.9V534.7H863.1V527.9H863.3V532.5H863.5V527.5H863.7V531.5H863.9V533.0H864.1V529.1H864.3V527.6H864.5V524.9H864.7V529.9H864.9V529.9H865.1V532.3H865.3V530.6H865.5V536.9H865.7V530.3H865.9V536.8H866.1V528.2H866.3V531.9H866.5V531.8H866.7V522.8H866.9V539.9H867.1V536.1H867.2V534.0H867.4V528.0H867.6V538.1H867.8V527.1H868.0V529.7H868.2V529.3H868.4V535.9H868.6V533.4H868.8V536.7H869.0V532.9H869.2V529.1H869.4V531.0H869.6V534.3H869.8V533.4H870.0V526.7H870.2V539.9H870.4V525.1H870.6V531.9H870.8V538.6H871.0V532.5H871.2V533.9H871.4V535.9H871.6V536.4H871.8V528.3H872.0V530.0H872.1V532.7H872.3V530.1H872.5V525.4H872.7V529.9H872.9V532.4H873.1V531.7H873.3V534.6H873.5V532.5H873.7V534.7H873.9V531.5H874.1V527.9H874.3V528.6H874.5V530.7H874.7V535.4H874.9V528.9H875.1V531.0H875.3V532.9H875.5V536.3H875.7V533.5H875.9V529.6H876.1V534.2H876.3V528.5H876.5V535.5H876.7V534.6H876.9V527.2H877.0V530.4H877.2V529.4H877.4V538.4H877.6V530.9H877.8V534.9H878.0V527.4H878.2V533.0H878.4V526.6H878.6V533.4H878.8V531.7H879.0V533.2H879.2V536.4H879.4V531.5H879.6V526.6H879.8V530.9H880.0V525.0H880.2V533.6H880.4V532.7H880.6V535.0H880.8V533.9H881.0V533.1H881.2V530.5H881.4V524.3H881.6V528.0H881.8V533.3H881.9V529.4H882.1V529.0H882.3V530.0H882.5V535.1H882.7V529.8H882.9V534.1H883.1V532.6H883.3V536.0H883.5V531.5H883.7V536.0H883.9V537.1H884.1V531.2H884.3V535.1H884.5V536.2H884.7V534.1H884.9V537.5H885.1V542.5H885.3V537.7H885.5V527.9H885.7V531.2H885.9V529.3H886.1V538.8H886.3V526.9H886.5V540.7H886.7V535.7H886.8V537.6H887.0V535.2H887.2V536.4H887.4V537.1H887.6V536.3H887.8V533.9H888.0V536.2H888.2V539.3H888.4V526.4H888.6V535.5H888.8V534.5H889.0V533.5H889.2V536.7H889.4V529.8H889.6V533.6H889.8V529.0H890.0V530.9H890.2V536.6H890.4V537.2H890.6V533.0H890.8V526.7H891.0V533.7H891.2V538.1H891.4V533.1H891.6V540.0H891.7V541.2H891.9V531.7H892.1V532.3H892.3V533.0H892.5V536.4H892.7V533.8H892.9V534.7H893.1V537.0H893.3V537.3H893.5V537.1H893.7V534.7H893.9V532.3H894.1V529.7H894.3V530.9H894.5V534.0H894.7V539.1H894.9V534.4H895.1V529.3H895.3V533.8H895.5V539.4H895.7V535.1H895.9V534.5H896.1V540.9H896.3V538.0H896.5V531.0H896.6V531.2H896.8V535.6H897.0V530.6H897.2V529.1H897.4V533.6H897.6V533.3H897.8V536.6H898.0V533.9H898.2V535.3H898.4V536.2H898.6V530.4H898.8V532.3H899.0V532.9H899.2V538.9H899.4V535.1H899.6V533.8H899.8V537.4H900.0V537.6H900.2V536.1H900.4V533.8H900.6V527.8H900.8V540.4H901.0V538.6H901.2V534.9H901.4V535.1H901.5V527.0H901.7V534.0H901.9V537.1H902.1V538.0H902.3V533.3H902.5V528.8H902.7V537.7H902.9V539.9H903.1V533.5H903.3V530.8H903.5V535.7H903.7V532.6H903.9V534.2H904.1V533.9H904.3V532.0H904.5V533.0H904.7V533.5H904.9V538.3H905.1V534.0H905.3V542.5H905.5V533.0H905.7V537.2H905.9V537.8H906.1V533.8H906.3V538.9H906.4V536.6H906.6V538.5H906.8V536.0H907.0V535.3H907.2V540.3H907.4V535.3H907.6V536.0H907.8V536.7H908.0V530.3H908.2V537.1H908.4V540.4H908.6V534.0H908.8V531.2H909.0V536.3H909.2V539.8H909.4V535.9H909.6V532.4H909.8V536.4H910.0V542.1H910.2V538.8H910.4V536.3H910.6V531.8H910.8V536.1H911.0V537.0H911.2V536.2H911.3V533.9H911.5V535.9H911.7V535.4H911.9V540.2H912.1V533.7H912.3V537.7H912.5V537.3H912.7V536.1H912.9V532.4H913.1V542.4H913.3V538.4H913.5V537.0H913.7V540.3H913.9V536.4H914.1V540.7H914.3V534.2H914.5V538.3H914.7V537.7H914.9V535.3H915.1V535.6H915.3V534.0H915.5V540.3H915.7V534.5H915.9V536.8H916.1V536.4H916.2V538.7H916.4V531.0H916.6V535.2H916.8V534.9H917.0V534.6H917.2V542.3H917.4V534.5H917.6V534.3H917.8V537.5H918.0V538.9H918.2V534.3H918.4V533.8H918.6V537.0H918.8V540.0H919.0V534.7H919.2V534.2H919.4V538.7H919.6V535.9H919.8V538.7H920.0V536.8H920.2V537.2H920.4V536.0H920.6V531.8H920.8V536.4H921.0V539.9H921.1V536.3H921.3V536.1H921.5V539.1H921.7V536.4H921.9V538.3H922.1V536.4H922.3V536.0H922.5V537.2H922.7V535.9H922.9V536.6H923.1V542.5H923.3V539.6H923.5V538.7H923.7V539.6H923.9V538.5H924.1V535.9H924.3V539.0H924.5V541.0H924.7V537.2H924.9V538.6H925.1V538.2H925.3V536.2H925.5V535.6H925.7V535.6H925.9V540.2H926.0V534.3H926.2V542.0H926.4V540.5H926.6V538.9H926.8V539.1H927.0V542.2H927.2V534.4H927.4V539.0H927.6V538.0H927.8V539.9H928.0V536.7H928.2V534.1H928.4V542.2H928.6V538.9H928.8V537.2H929.0V537.9H929.2V542.5H929.4V541.5H929.6V540.5H929.8V539.0H930.0V537.1H930.2V539.7H930.4V539.6H930.6V533.7H930.8V537.4H930.9V535.4H931.1V536.4H931.3V536.6H931.5V538.7H931.7V538.8H931.9V538.1H932.1V539.4H932.3V537.8H932.5V540.4H932.7V538.2H932.9V539.2H933.1V539.7H933.3V542.5H933.5V537.5H933.7V539.9H933.9V538.4H934.1V536.9H934.3V537.0H934.5V540.1H934.7V539.6H934.9V534.8H935.1V538.1H935.3V534.4H935.5V536.6H935.7V542.5H935.8V537.1H936.0V540.0H936.2V537.8H936.4V542.0H936.6V538.5H936.8V537.8H937.0V539.8H937.2V538.0H937.4V539.0H937.6V539.3H937.8V539.7H938.0V539.5H938.2V540.7H938.4V539.7H938.6V537.6H938.8V542.5H939.0V541.4H939.2V540.0H939.4V539.2H939.6V537.4H939.8V539.6H940.0V539.4H940.2V537.7H940.4V538.3H940.6V540.8H940.7V537.3H940.9V541.2H941.1V540.4H941.3V540.9H941.5V542.3H941.7V540.5H941.9V538.7H942.1V539.1H942.3V538.5H942.5V542.5H942.7V537.4H942.9V541.7H943.1V538.6H943.3V541.6H943.5V540.1H943.7V538.8H943.9V539.3H944.1V540.9H944.3V540.5H944.5V541.5H944.7V541.5H944.9V538.8H945.1V538.9H945.3V541.2H945.5V539.6H945.6V539.6H945.8V539.7H946.0V542.0H946.2V539.7H946.4V539.3H946.6V540.9H946.8V539.5H947.0V540.7H947.2V539.9H947.4V540.2H947.6V541.3H947.8V540.6H948.0V541.3H948.2V541.3H948.4V540.0H948.6V541.1H948.8V541.3H949.0V542.5H949.2V542.5H949.4V542.5H949.6V542.5H949.8V542.5H950.0V542.5H950.2V542.5H950.4V542.5H950.5V542.5H950.7V542.5H950.9V542.5H951.1V542.5H951.3V542.5H951.5V542.5H951.7V542.5H951.9V542.5H952.1V542.5H952.3V542.5H952.5V542.5H952.7V542.5H952.9V542.5H953.1V542.5H953.3V542.5H953.5V542.5H953.7V542.5H953.9V542.5H954.1V542.5H954.3V542.5H954.5V542.5H954.7V542.5H954.9V542.5H955.1V542.5H955.3V542.5H955.4V542.5H955.6V542.5H955.8V542.5H956.0V542.5H956.2V542.5H956.4V542.5H956.6V542.5H956.8V542.5H957.0V542.5H957.2V542.5H957.4V542.5H957.6V542.5H957.8V542.5H958.0V542.5H958.2V542.5H958.4V542.5H958.6V542.5H958.8V542.5H959.0V542.5H959.2V542.5H959.4V542.5H959.6V542.5H959.8V542.5H960.0V542.5H960.2V542.5H960.3V542.5H960.5V542.5H960.7V542.5H960.9V542.5H961.1V542.5H961.3V542.5H961.5V542.5H961.7V542.5H961.9V542.5H962.1V542.5H962.3V542.5H962.5V542.5H962.7" fill="none" stroke="#000099" stroke-width="1"/>
<rect x="60.5" y="67.4" width="392" height="206.2" fill="none" stroke="#000" stroke-width="1.1"/>
<path d="M60.5 273.6h12.2M60.5 269.3h6.2M60.5 265h6.2M60.5 260.7h6.2M60.5 256.4h12.2M60.5 252.1h6.2M60.5 247.8h6.2M60.5 243.5h6.2M60.5 239.2h12.2M60.5 234.9h6.2M60.5 230.6h6.2M60.5 226.3h6.2M60.5 222.1h12.2M60.5 217.8h6.2M60.5 213.5h6.2M60.5 209.2h6.2M60.5 204.9h12.2M60.5 200.6h6.2M60.5 196.3h6.2M60.5 192h6.2M60.5 187.7h12.2M60.5 183.4h6.2M60.5 179.1h6.2M60.5 174.8h6.2M60.5 170.5h12.2M60.5 166.2h6.2M60.5 161.9h6.2M60.5 157.6h6.2M60.5 153.3h12.2M60.5 149h6.2M60.5 144.7h6.2M60.5 140.4h6.2M60.5 136.1h12.2M60.5 131.8h6.2M60.5 127.5h6.2M60.5 123.2h6.2M60.5 119h12.2M60.5 114.7h6.2M60.5 110.4h6.2M60.5 106.1h6.2M60.5 101.8h12.2M60.5 97.5h6.2M60.5 93.2h6.2M60.5 88.9h6.2M60.5 84.6h12.2M60.5 80.3h6.2M60.5 76h6.2M60.5 71.7h6.2M60.5 67.4h12.2M67.5 273.6v-3.2M77.8 273.6v-3.2M88.2 273.6v-6M98.6 273.6v-3.2M109 273.6v-3.2M119.3 273.6v-3.2M129.7 273.6v-6M140.1 273.6v-3.2M150.4 273.6v-3.2M160.8 273.6v-3.2M171.2 273.6v-6M181.6 273.6v-3.2M191.9 273.6v-3.2M202.3 273.6v-3.2M212.7 273.6v-6M223.1 273.6v-3.2M233.5 273.6v-3.2M243.8 273.6v-3.2M254.2 273.6v-6M264.6 273.6v-3.2M274.9 273.6v-3.2M285.3 273.6v-3.2M295.7 273.6v-6M306.1 273.6v-3.2M316.4 273.6v-3.2M326.8 273.6v-3.2M337.2 273.6v-6M347.6 273.6v-3.2M357.9 273.6v-3.2M368.3 273.6v-3.2M378.7 273.6v-6M389.1 273.6v-3.2M399.4 273.6v-3.2M409.8 273.6v-3.2M420.2 273.6v-6M430.6 273.6v-3.2M440.9 273.6v-3.2M451.3 273.6v-3.2" stroke="#000" stroke-width="1.1" fill="none"/>
<g font-size="8.2" fill="#000"><text x="56.9" y="276.5" text-anchor="end">0</text><text x="56.9" y="259.3" text-anchor="end">20</text><text x="56.9" y="242.1" text-anchor="end">40</text><text x="56.9" y="225" text-anchor="end">60</text><text x="56.9" y="207.8" text-anchor="end">80</text><text x="56.9" y="190.6" text-anchor="end">100</text><text x="56.9" y="173.4" text-anchor="end">120</text><text x="56.9" y="156.2" text-anchor="end">140</text><text x="56.9" y="139" text-anchor="end">160</text><text x="56.9" y="121.9" text-anchor="end">180</text><text x="56.9" y="104.7" text-anchor="end">200</text><text x="56.9" y="87.5" text-anchor="end">220</text><text x="56.9" y="70.3" text-anchor="end">240</text><text x="88.2" y="281.2" text-anchor="middle">200</text><text x="129.7" y="281.2" text-anchor="middle">400</text><text x="171.2" y="281.2" text-anchor="middle">600</text><text x="212.7" y="281.2" text-anchor="middle">800</text><text x="254.2" y="281.2" text-anchor="middle">1000</text><text x="295.7" y="281.2" text-anchor="middle">1200</text><text x="337.2" y="281.2" text-anchor="middle">1400</text><text x="378.7" y="281.2" text-anchor="middle">1600</text><text x="420.2" y="281.2" text-anchor="middle">1800</text></g>
<rect x="570.7" y="67.4" width="392" height="206.2" fill="none" stroke="#000" stroke-width="1.1"/>
<path d="M570.7 273.6h12.2M570.7 268.4h6.2M570.7 263.3h6.2M570.7 258.1h6.2M570.7 253h12.2M570.7 247.8h6.2M570.7 242.7h6.2M570.7 237.5h6.2M570.7 232.4h12.2M570.7 227.2h6.2M570.7 222.1h6.2M570.7 216.9h6.2M570.7 211.7h12.2M570.7 206.6h6.2M570.7 201.4h6.2M570.7 196.3h6.2M570.7 191.1h12.2M570.7 186h6.2M570.7 180.8h6.2M570.7 175.7h6.2M570.7 170.5h12.2M570.7 165.3h6.2M570.7 160.2h6.2M570.7 155h6.2M570.7 149.9h12.2M570.7 144.7h6.2M570.7 139.6h6.2M570.7 134.4h6.2M570.7 129.3h12.2M570.7 124.1h6.2M570.7 119h6.2M570.7 113.8h6.2M570.7 108.6h12.2M570.7 103.5h6.2M570.7 98.3h6.2M570.7 93.2h6.2M570.7 88h12.2M570.7 82.9h6.2M570.7 77.7h6.2M570.7 72.6h6.2M570.7 67.4h12.2M570.7 273.6v-6M580.5 273.6v-3.2M590.3 273.6v-3.2M600.1 273.6v-3.2M609.9 273.6v-6M619.7 273.6v-3.2M629.5 273.6v-3.2M639.3 273.6v-3.2M649.1 273.6v-6M658.9 273.6v-3.2M668.7 273.6v-3.2M678.5 273.6v-3.2M688.3 273.6v-6M698.1 273.6v-3.2M707.9 273.6v-3.2M717.7 273.6v-3.2M727.5 273.6v-6M737.3 273.6v-3.2M747.1 273.6v-3.2M756.9 273.6v-3.2M766.7 273.6v-6M776.5 273.6v-3.2M786.3 273.6v-3.2M796.1 273.6v-3.2M805.9 273.6v-6M815.7 273.6v-3.2M825.5 273.6v-3.2M835.3 273.6v-3.2M845.1 273.6v-6M854.9 273.6v-3.2M864.7 273.6v-3.2M874.5 273.6v-3.2M884.3 273.6v-6M894.1 273.6v-3.2M903.9 273.6v-3.2M913.7 273.6v-3.2M923.5 273.6v-6M933.3 273.6v-3.2M943.1 273.6v-3.2M952.9 273.6v-3.2M962.7 273.6v-6" stroke="#000" stroke-width="1.1" fill="none"/>
<g font-size="8.2" fill="#000"><text x="567.1" y="276.5" text-anchor="end">0</text><text x="567.1" y="255.9" text-anchor="end">200</text><text x="567.1" y="235.3" text-anchor="end">400</text><text x="567.1" y="214.6" text-anchor="end">600</text><text x="567.1" y="194" text-anchor="end">800</text><text x="567.1" y="173.4" text-anchor="end">1000</text><text x="567.1" y="152.8" text-anchor="end">1200</text><text x="567.1" y="132.2" text-anchor="end">1400</text><text x="567.1" y="111.5" text-anchor="end">1600</text><text x="567.1" y="90.9" text-anchor="end">1800</text><text x="567.1" y="70.3" text-anchor="end">2000</text><text x="570.7" y="281.2" text-anchor="middle">0</text><text x="609.9" y="281.2" text-anchor="middle">200</text><text x="649.1" y="281.2" text-anchor="middle">400</text><text x="688.3" y="281.2" text-anchor="middle">600</text><text x="727.5" y="281.2" text-anchor="middle">800</text><text x="766.7" y="281.2" text-anchor="middle">1000</text><text x="805.9" y="281.2" text-anchor="middle">1200</text><text x="845.1" y="281.2" text-anchor="middle">1400</text><text x="884.3" y="281.2" text-anchor="middle">1600</text><text x="923.5" y="281.2" text-anchor="middle">1800</text><text x="962.7" y="281.2" text-anchor="middle">2000</text></g>
<rect x="60.5" y="336.2" width="392" height="206.3" fill="none" stroke="#000" stroke-width="1.1"/>
<path d="M60.5 542.5h12.2M60.5 537.2h6.2M60.5 532h6.2M60.5 526.7h6.2M60.5 521.5h12.2M60.5 516.2h6.2M60.5 511h6.2M60.5 505.7h6.2M60.5 500.5h12.2M60.5 495.2h6.2M60.5 490h6.2M60.5 484.7h6.2M60.5 479.5h12.2M60.5 474.2h6.2M60.5 469h6.2M60.5 463.7h6.2M60.5 458.5h12.2M60.5 453.2h6.2M60.5 448h6.2M60.5 442.7h6.2M60.5 437.5h12.2M60.5 432.2h6.2M60.5 427h6.2M60.5 421.7h6.2M60.5 416.4h12.2M60.5 411.2h6.2M60.5 405.9h6.2M60.5 400.7h6.2M60.5 395.4h12.2M60.5 390.2h6.2M60.5 384.9h6.2M60.5 379.7h6.2M60.5 374.4h12.2M60.5 369.2h6.2M60.5 363.9h6.2M60.5 358.7h6.2M60.5 353.4h12.2M60.5 348.2h6.2M60.5 342.9h6.2M60.5 337.7h6.2M60.5 542.5v-6M68.3 542.5v-3.2M76.2 542.5v-3.2M84 542.5v-3.2M91.9 542.5v-3.2M99.7 542.5v-6M107.5 542.5v-3.2M115.4 542.5v-3.2M123.2 542.5v-3.2M131.1 542.5v-3.2M138.9 542.5v-6M146.7 542.5v-3.2M154.6 542.5v-3.2M162.4 542.5v-3.2M170.3 542.5v-3.2M178.1 542.5v-6M185.9 542.5v-3.2M193.8 542.5v-3.2M201.6 542.5v-3.2M209.5 542.5v-3.2M217.3 542.5v-6M225.1 542.5v-3.2M233 542.5v-3.2M240.8 542.5v-3.2M248.7 542.5v-3.2M256.5 542.5v-6M264.3 542.5v-3.2M272.2 542.5v-3.2M280 542.5v-3.2M287.9 542.5v-3.2M295.7 542.5v-6M303.5 542.5v-3.2M311.4 542.5v-3.2M319.2 542.5v-3.2M327.1 542.5v-3.2M334.9 542.5v-6M342.7 542.5v-3.2M350.6 542.5v-3.2M358.4 542.5v-3.2M366.3 542.5v-3.2M374.1 542.5v-6M381.9 542.5v-3.2M389.8 542.5v-3.2M397.6 542.5v-3.2M405.5 542.5v-3.2M413.3 542.5v-6M421.1 542.5v-3.2M429 542.5v-3.2M436.8 542.5v-3.2M444.7 542.5v-3.2M452.5 542.5v-6" stroke="#000" stroke-width="1.1" fill="none"/>
<g font-size="8.2" fill="#000"><text x="56.9" y="545.4" text-anchor="end">0</text><text x="56.9" y="524.4" text-anchor="end">20</text><text x="56.9" y="503.4" text-anchor="end">40</text><text x="56.9" y="482.4" text-anchor="end">60</text><text x="56.9" y="461.4" text-anchor="end">80</text><text x="56.9" y="440.4" text-anchor="end">100</text><text x="56.9" y="419.3" text-anchor="end">120</text><text x="56.9" y="398.3" text-anchor="end">140</text><text x="56.9" y="377.3" text-anchor="end">160</text><text x="56.9" y="356.3" text-anchor="end">180</text><text x="60.5" y="550.1" text-anchor="middle">50</text><text x="99.7" y="550.1" text-anchor="middle">100</text><text x="138.9" y="550.1" text-anchor="middle">150</text><text x="178.1" y="550.1" text-anchor="middle">200</text><text x="217.3" y="550.1" text-anchor="middle">250</text><text x="256.5" y="550.1" text-anchor="middle">300</text><text x="295.7" y="550.1" text-anchor="middle">350</text><text x="334.9" y="550.1" text-anchor="middle">400</text><text x="374.1" y="550.1" text-anchor="middle">450</text><text x="413.3" y="550.1" text-anchor="middle">500</text><text x="452.5" y="550.1" text-anchor="middle">550</text></g>
<rect x="570.7" y="336.2" width="392" height="206.3" fill="none" stroke="#000" stroke-width="1.1"/>
<path d="M570.7 542.5h12.2M570.7 538.1h6.2M570.7 533.8h6.2M570.7 529.4h6.2M570.7 525h12.2M570.7 520.6h6.2M570.7 516.3h6.2M570.7 511.9h6.2M570.7 507.5h12.2M570.7 503.1h6.2M570.7 498.8h6.2M570.7 494.4h6.2M570.7 490h12.2M570.7 485.6h6.2M570.7 481.3h6.2M570.7 476.9h6.2M570.7 472.5h12.2M570.7 468.1h6.2M570.7 463.8h6.2M570.7 459.4h6.2M570.7 455h12.2M570.7 450.6h6.2M570.7 446.3h6.2M570.7 441.9h6.2M570.7 437.5h12.2M570.7 433.1h6.2M570.7 428.8h6.2M570.7 424.4h6.2M570.7 420h12.2M570.7 415.6h6.2M570.7 411.3h6.2M570.7 406.9h6.2M570.7 402.5h12.2M570.7 398.2h6.2M570.7 393.8h6.2M570.7 389.4h6.2M570.7 385h12.2M570.7 380.7h6.2M570.7 376.3h6.2M570.7 371.9h6.2M570.7 367.5h12.2M570.7 363.2h6.2M570.7 358.8h6.2M570.7 354.4h6.2M570.7 350h12.2M570.7 345.7h6.2M570.7 341.3h6.2M570.7 336.9h6.2M570.7 542.5v-6M580.5 542.5v-3.2M590.3 542.5v-3.2M600.1 542.5v-3.2M609.9 542.5v-6M619.7 542.5v-3.2M629.5 542.5v-3.2M639.3 542.5v-3.2M649.1 542.5v-6M658.9 542.5v-3.2M668.7 542.5v-3.2M678.5 542.5v-3.2M688.3 542.5v-6M698.1 542.5v-3.2M707.9 542.5v-3.2M717.7 542.5v-3.2M727.5 542.5v-6M737.3 542.5v-3.2M747.1 542.5v-3.2M756.9 542.5v-3.2M766.7 542.5v-6M776.5 542.5v-3.2M786.3 542.5v-3.2M796.1 542.5v-3.2M805.9 542.5v-6M815.7 542.5v-3.2M825.5 542.5v-3.2M835.3 542.5v-3.2M845.1 542.5v-6M854.9 542.5v-3.2M864.7 542.5v-3.2M874.5 542.5v-3.2M884.3 542.5v-6M894.1 542.5v-3.2M903.9 542.5v-3.2M913.7 542.5v-3.2M923.5 542.5v-6M933.3 542.5v-3.2M943.1 542.5v-3.2M952.9 542.5v-3.2M962.7 542.5v-6" stroke="#000" stroke-width="1.1" fill="none"/>
<g font-size="8.2" fill="#000"><text x="567.1" y="545.4" text-anchor="end">0</text><text x="567.1" y="527.9" text-anchor="end">20</text><text x="567.1" y="510.4" text-anchor="end">40</text><text x="567.1" y="492.9" text-anchor="end">60</text><text x="567.1" y="475.4" text-anchor="end">80</text><text x="567.1" y="457.9" text-anchor="end">100</text><text x="567.1" y="440.4" text-anchor="end">120</text><text x="567.1" y="422.9" text-anchor="end">140</text><text x="567.1" y="405.4" text-anchor="end">160</text><text x="567.1" y="387.9" text-anchor="end">180</text><text x="567.1" y="370.4" text-anchor="end">200</text><text x="567.1" y="352.9" text-anchor="end">220</text><text x="570.7" y="550.1" text-anchor="middle">0</text><text x="609.9" y="550.1" text-anchor="middle">200</text><text x="649.1" y="550.1" text-anchor="middle">400</text><text x="688.3" y="550.1" text-anchor="middle">600</text><text x="727.5" y="550.1" text-anchor="middle">800</text><text x="766.7" y="550.1" text-anchor="middle">1000</text><text x="805.9" y="550.1" text-anchor="middle">1200</text><text x="845.1" y="550.1" text-anchor="middle">1400</text><text x="884.3" y="550.1" text-anchor="middle">1600</text><text x="923.5" y="550.1" text-anchor="middle">1800</text><text x="962.7" y="550.1" text-anchor="middle">2000</text></g>
<text x="452.5" y="290" text-anchor="end" font-size="8.2" fill="#000">ADC (Channels)</text>
<text x="962.7" y="290" text-anchor="end" font-size="8.2" fill="#000">ADC (Channels)</text>
<text x="452.5" y="558.6" text-anchor="end" font-size="8.2" fill="#000">Time (ns)</text>
<text x="962.7" y="558.6" text-anchor="end" font-size="8.2" fill="#000">ADC (Channels)</text>
<text transform="translate(546.2 68.3) rotate(-90)" text-anchor="end" font-size="8.2" fill="#000">TDC (Channels)</text>
<rect x="393.2" y="58.6" width="98.2" height="40.8" fill="#fff" stroke="#000" stroke-width="1.1"/>
<path d="M393.2 69.1H491.4" stroke="#000" stroke-width="1.1"/>
<g font-size="8.8" fill="#000"><text x="441.7" y="66.1" text-anchor="middle" textLength="36.4">csi_adc0</text><text x="398.1" y="76.9" textLength="28.1">Entries</text><text x="485.8" y="76.9" text-anchor="end" textLength="34.9">1119184</text><text x="398.1" y="86.8" textLength="22.8">Mean</text><text x="485.8" y="86.8" text-anchor="end" textLength="23.2">683.4</text><text x="398.1" y="96.8" textLength="20.3">RMS</text><text x="485.8" y="96.8" text-anchor="end" textLength="23.2">377.7</text></g>
<rect x="903.5" y="58.6" width="98.3" height="61.7" fill="#fff" stroke="#000" stroke-width="1.1"/>
<path d="M903.5 69.1H1001.8" stroke="#000" stroke-width="1.1"/>
<g font-size="8.8" fill="#000"><text x="952" y="66.1" text-anchor="middle" textLength="53.1">csi_tdc_adc0</text><text x="908.4" y="76.9" textLength="28.3">Entries</text><text x="996.2" y="76.9" text-anchor="end" textLength="35">1119184</text><text x="908.4" y="86.8" textLength="30.4">Mean x</text><text x="996.2" y="86.8" text-anchor="end" textLength="23.2">687.2</text><text x="908.4" y="96.8" textLength="30.4">Mean y</text><text x="996.2" y="96.8" text-anchor="end" textLength="23.2">899.7</text><text x="908.4" y="106.7" textLength="27.6">RMS x</text><text x="996.2" y="106.7" text-anchor="end" textLength="23.2">375.9</text><text x="908.4" y="116.7" textLength="27.6">RMS y</text><text x="996.2" y="116.7" text-anchor="end" textLength="23.2">203.9</text></g>
<rect x="393.2" y="327" width="98.2" height="41.2" fill="#fff" stroke="#000" stroke-width="1.1"/>
<path d="M393.2 337.3H491.4" stroke="#000" stroke-width="1.1"/>
<g font-size="8.8" fill="#000"><text x="441.7" y="334.3" text-anchor="middle" textLength="30.2">de_tof0</text><text x="398.1" y="345.1" textLength="28.1">Entries</text><text x="485.8" y="345.1" text-anchor="end" textLength="34.9">1119184</text><text x="398.1" y="355.1" textLength="22.8">Mean</text><text x="485.8" y="355.1" text-anchor="end" textLength="22.6">150.5</text><text x="398.1" y="365" textLength="20.3">RMS</text><text x="485.8" y="365" text-anchor="end" textLength="23.2">56.87</text></g>
<rect x="903.5" y="327" width="98.3" height="41.2" fill="#fff" stroke="#000" stroke-width="1.1"/>
<path d="M903.5 337.3H1001.8" stroke="#000" stroke-width="1.1"/>
<g font-size="8.8" fill="#000"><text x="952" y="334.3" text-anchor="middle" textLength="52.9">csi_adc_tCut</text><text x="908.4" y="345.1" textLength="28.4">Entries</text><text x="996.2" y="345.1" text-anchor="end" textLength="26.1">68762</text><text x="908.4" y="355.1" textLength="22.8">Mean</text><text x="996.2" y="355.1" text-anchor="end" textLength="23.2">709.8</text><text x="908.4" y="365" textLength="20.3">RMS</text><text x="996.2" y="365" text-anchor="end" textLength="23.2">371.9</text></g>
</svg></body></html>
